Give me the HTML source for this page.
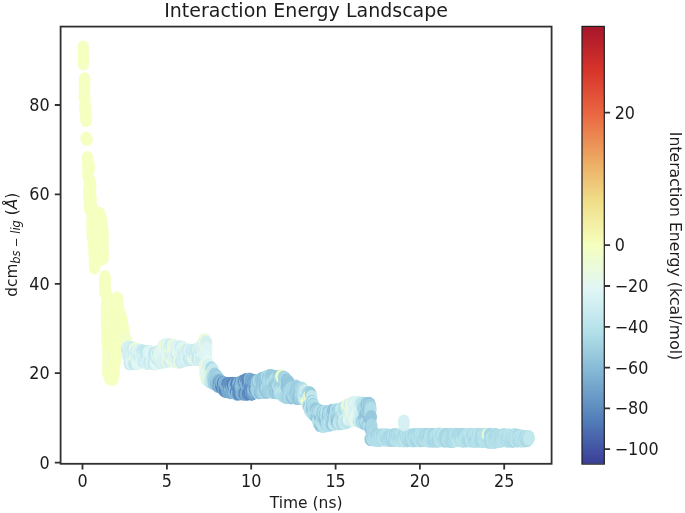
<!DOCTYPE html>
<html lang="en"><head><meta charset="utf-8"><title>Interaction Energy Landscape</title>
<style>html,body{margin:0;padding:0;background:#fff}body{width:685px;height:513px;overflow:hidden}svg{display:block}text{font-family:"DejaVu Sans","Liberation Sans",sans-serif;fill:#1c1c1c}.t{font-size:16px}.l{font-size:15.5px}.k{stroke:#303030;stroke-width:1.80;fill:none}</style></head><body>
<svg width="685" height="513" viewBox="0 0 685 513">
<rect width="685" height="513" fill="#fff"/>
<defs><linearGradient id="cb" x1="0" y1="0" x2="0" y2="1">
<stop offset="0%" stop-color="#a6162b"/>
<stop offset="10%" stop-color="#d7342a"/>
<stop offset="20%" stop-color="#ea6742"/>
<stop offset="30%" stop-color="#eca660"/>
<stop offset="40%" stop-color="#f0de88"/>
<stop offset="50%" stop-color="#f5ffbe"/>
<stop offset="60%" stop-color="#e1f6f6"/>
<stop offset="70%" stop-color="#b2e0e9"/>
<stop offset="80%" stop-color="#7eb2d2"/>
<stop offset="90%" stop-color="#527eb9"/>
<stop offset="100%" stop-color="#3a3e98"/>
</linearGradient><clipPath id="ax"><rect x="60.6" y="26.6" width="491.0" height="437.2"/></clipPath></defs>
<g class="p" clip-path="url(#ax)" fill-opacity="0.93">
<ellipse cx="83.3" cy="47.3" rx="5.9" ry="6.9" fill="#f4ffc0"/>
<ellipse cx="83.3" cy="63.6" rx="5.9" ry="6.9" fill="#f4ffc0"/>
<ellipse cx="83.3" cy="53.0" rx="5.9" ry="6.9" fill="#f4ffc0"/>
<ellipse cx="83.6" cy="58.5" rx="5.9" ry="6.9" fill="#f4ffc0"/>
<ellipse cx="84.4" cy="96.2" rx="5.9" ry="6.9" fill="#f4ffc0"/>
<ellipse cx="84.4" cy="91.2" rx="5.9" ry="6.9" fill="#f4ffc0"/>
<ellipse cx="84.4" cy="83.2" rx="5.9" ry="6.9" fill="#f4ffc0"/>
<ellipse cx="84.6" cy="79.1" rx="5.9" ry="6.9" fill="#f4ffc0"/>
<ellipse cx="84.7" cy="87.8" rx="5.9" ry="6.9" fill="#f4ffc0"/>
<ellipse cx="84.7" cy="99.2" rx="5.9" ry="6.9" fill="#f4ffc0"/>
<ellipse cx="85.2" cy="104.8" rx="5.9" ry="6.9" fill="#f4ffc0"/>
<ellipse cx="85.3" cy="108.4" rx="5.9" ry="6.9" fill="#f4ffc0"/>
<ellipse cx="85.4" cy="111.7" rx="5.9" ry="6.9" fill="#f4ffc0"/>
<ellipse cx="85.9" cy="115.9" rx="5.9" ry="6.9" fill="#f4ffc0"/>
<ellipse cx="86.1" cy="120.4" rx="5.9" ry="6.9" fill="#f4ffc0"/>
<ellipse cx="86.2" cy="138.5" rx="5.9" ry="6.9" fill="#f4ffc0"/>
<ellipse cx="86.9" cy="139.2" rx="5.9" ry="6.9" fill="#f4ffc0"/>
<ellipse cx="87.4" cy="157.9" rx="5.9" ry="6.9" fill="#f4ffc0"/>
<ellipse cx="87.7" cy="162.0" rx="5.9" ry="6.9" fill="#f4ffc0"/>
<ellipse cx="87.9" cy="174.8" rx="5.9" ry="6.9" fill="#f4ffc0"/>
<ellipse cx="88.0" cy="165.1" rx="5.9" ry="6.9" fill="#f4ffc0"/>
<ellipse cx="88.1" cy="168.0" rx="5.9" ry="6.9" fill="#f4ffc0"/>
<ellipse cx="88.4" cy="172.1" rx="5.9" ry="6.9" fill="#f4ffc0"/>
<ellipse cx="88.6" cy="177.9" rx="5.9" ry="6.9" fill="#f4ffc0"/>
<ellipse cx="88.9" cy="192.6" rx="5.9" ry="6.9" fill="#f4ffc0"/>
<ellipse cx="89.0" cy="169.1" rx="5.9" ry="6.9" fill="#f4ffc0"/>
<ellipse cx="89.0" cy="195.5" rx="5.9" ry="6.9" fill="#f4ffc0"/>
<ellipse cx="89.1" cy="198.8" rx="5.9" ry="6.9" fill="#f4ffc0"/>
<ellipse cx="89.1" cy="165.1" rx="5.9" ry="6.9" fill="#f4ffc0"/>
<ellipse cx="89.4" cy="181.9" rx="5.9" ry="6.9" fill="#f4ffc0"/>
<ellipse cx="89.4" cy="206.5" rx="5.9" ry="6.9" fill="#f4ffc0"/>
<ellipse cx="89.4" cy="188.9" rx="5.9" ry="6.9" fill="#f4ffc0"/>
<ellipse cx="89.5" cy="186.1" rx="5.9" ry="6.9" fill="#f4ffc0"/>
<ellipse cx="89.7" cy="202.2" rx="5.9" ry="6.9" fill="#f4ffc0"/>
<ellipse cx="89.9" cy="209.4" rx="5.9" ry="6.9" fill="#f4ffc0"/>
<ellipse cx="90.1" cy="181.9" rx="5.9" ry="6.9" fill="#f4ffc0"/>
<ellipse cx="90.3" cy="188.8" rx="5.9" ry="6.9" fill="#f4ffc0"/>
<ellipse cx="90.5" cy="196.2" rx="5.9" ry="6.9" fill="#f4ffc0"/>
<ellipse cx="90.5" cy="192.0" rx="5.9" ry="6.9" fill="#f4ffc0"/>
<ellipse cx="90.7" cy="185.0" rx="5.9" ry="6.9" fill="#f4ffc0"/>
<ellipse cx="90.8" cy="202.6" rx="5.9" ry="6.9" fill="#f4ffc0"/>
<ellipse cx="91.0" cy="206.4" rx="5.9" ry="6.9" fill="#f4ffc0"/>
<ellipse cx="91.0" cy="198.6" rx="5.9" ry="6.9" fill="#f4ffc0"/>
<ellipse cx="92.0" cy="223.5" rx="5.9" ry="6.9" fill="#f4ffc0"/>
<ellipse cx="92.2" cy="227.3" rx="5.9" ry="6.9" fill="#f4ffc0"/>
<ellipse cx="92.3" cy="234.4" rx="5.9" ry="6.9" fill="#f4ffc0"/>
<ellipse cx="92.4" cy="230.9" rx="5.9" ry="6.9" fill="#f4ffc0"/>
<ellipse cx="92.4" cy="219.6" rx="5.9" ry="6.9" fill="#f4ffc0"/>
<ellipse cx="92.4" cy="216.7" rx="5.9" ry="6.9" fill="#f4ffc0"/>
<ellipse cx="92.5" cy="213.5" rx="5.9" ry="6.9" fill="#f4ffc0"/>
<ellipse cx="92.5" cy="209.2" rx="5.9" ry="6.9" fill="#f4ffc0"/>
<ellipse cx="92.7" cy="237.4" rx="5.9" ry="6.9" fill="#f4ffc0"/>
<ellipse cx="92.8" cy="220.1" rx="5.9" ry="6.9" fill="#f4ffc0"/>
<ellipse cx="93.5" cy="240.0" rx="5.9" ry="6.9" fill="#f4ffc0"/>
<ellipse cx="93.5" cy="243.7" rx="5.9" ry="6.9" fill="#f4ffc0"/>
<ellipse cx="93.5" cy="212.8" rx="5.9" ry="6.9" fill="#f4ffc0"/>
<ellipse cx="93.8" cy="215.9" rx="5.9" ry="6.9" fill="#f4ffc0"/>
<ellipse cx="94.2" cy="251.5" rx="5.9" ry="6.9" fill="#f4ffc0"/>
<ellipse cx="94.4" cy="251.2" rx="5.9" ry="6.9" fill="#f4ffc0"/>
<ellipse cx="94.4" cy="254.6" rx="5.9" ry="6.9" fill="#f4ffc0"/>
<ellipse cx="94.4" cy="247.6" rx="5.9" ry="6.9" fill="#f4ffc0"/>
<ellipse cx="94.5" cy="262.2" rx="5.9" ry="6.9" fill="#f4ffc0"/>
<ellipse cx="94.5" cy="258.3" rx="5.9" ry="6.9" fill="#f4ffc0"/>
<ellipse cx="94.5" cy="226.0" rx="5.9" ry="6.9" fill="#f4ffc0"/>
<ellipse cx="94.6" cy="267.6" rx="5.9" ry="6.9" fill="#f4ffc0"/>
<ellipse cx="94.8" cy="254.4" rx="5.9" ry="6.9" fill="#f4ffc0"/>
<ellipse cx="94.8" cy="265.1" rx="5.9" ry="6.9" fill="#f4ffc0"/>
<ellipse cx="95.0" cy="234.4" rx="5.9" ry="6.9" fill="#f4ffc0"/>
<ellipse cx="95.2" cy="246.3" rx="5.9" ry="6.9" fill="#f4ffc0"/>
<ellipse cx="96.5" cy="229.2" rx="5.9" ry="6.9" fill="#f4ffc0"/>
<ellipse cx="96.9" cy="244.9" rx="5.9" ry="6.9" fill="#f4ffc0"/>
<ellipse cx="97.4" cy="239.5" rx="5.9" ry="6.9" fill="#f4ffc0"/>
<ellipse cx="98.4" cy="237.9" rx="5.9" ry="6.9" fill="#f4ffc0"/>
<ellipse cx="98.6" cy="233.1" rx="5.9" ry="6.9" fill="#f4ffc0"/>
<ellipse cx="98.9" cy="236.5" rx="5.9" ry="6.9" fill="#f4ffc0"/>
<ellipse cx="99.5" cy="213.6" rx="5.9" ry="6.9" fill="#f4ffc0"/>
<ellipse cx="100.6" cy="217.2" rx="5.9" ry="6.9" fill="#f4ffc0"/>
<ellipse cx="101.2" cy="219.2" rx="5.9" ry="6.9" fill="#f4ffc0"/>
<ellipse cx="101.5" cy="227.5" rx="5.9" ry="6.9" fill="#f4ffc0"/>
<ellipse cx="101.5" cy="258.7" rx="5.9" ry="6.9" fill="#f4ffc0"/>
<ellipse cx="101.5" cy="223.3" rx="5.9" ry="6.9" fill="#f4ffc0"/>
<ellipse cx="101.6" cy="230.4" rx="5.9" ry="6.9" fill="#f4ffc0"/>
<ellipse cx="101.7" cy="223.2" rx="5.9" ry="6.9" fill="#f4ffc0"/>
<ellipse cx="102.3" cy="226.2" rx="5.9" ry="6.9" fill="#f4ffc0"/>
<ellipse cx="102.7" cy="243.4" rx="5.9" ry="6.9" fill="#f4ffc0"/>
<ellipse cx="102.8" cy="234.0" rx="5.9" ry="6.9" fill="#f4ffc0"/>
<ellipse cx="102.8" cy="247.5" rx="5.9" ry="6.9" fill="#f4ffc0"/>
<ellipse cx="102.8" cy="230.9" rx="5.9" ry="6.9" fill="#f4ffc0"/>
<ellipse cx="102.9" cy="236.6" rx="5.9" ry="6.9" fill="#f4ffc0"/>
<ellipse cx="102.9" cy="251.6" rx="5.9" ry="6.9" fill="#f4ffc0"/>
<ellipse cx="102.9" cy="240.1" rx="5.9" ry="6.9" fill="#f4ffc0"/>
<ellipse cx="103.0" cy="258.0" rx="5.9" ry="6.9" fill="#f4ffc0"/>
<ellipse cx="103.2" cy="255.1" rx="5.9" ry="6.9" fill="#f4ffc0"/>
<ellipse cx="104.7" cy="286.8" rx="5.9" ry="6.9" fill="#f4ffc0"/>
<ellipse cx="104.9" cy="279.9" rx="5.9" ry="6.9" fill="#f4ffc0"/>
<ellipse cx="104.9" cy="283.5" rx="5.9" ry="6.9" fill="#f4ffc0"/>
<ellipse cx="105.0" cy="276.9" rx="5.9" ry="6.9" fill="#f4ffc0"/>
<ellipse cx="105.1" cy="292.9" rx="5.9" ry="6.9" fill="#f4ffc0"/>
<ellipse cx="105.2" cy="290.4" rx="5.9" ry="6.9" fill="#f4ffc0"/>
<ellipse cx="106.6" cy="323.5" rx="5.9" ry="6.9" fill="#f4ffc0"/>
<ellipse cx="106.6" cy="307.4" rx="5.9" ry="6.9" fill="#f4ffc0"/>
<ellipse cx="106.7" cy="319.6" rx="5.9" ry="6.9" fill="#f4ffc0"/>
<ellipse cx="106.8" cy="316.3" rx="5.9" ry="6.9" fill="#f4ffc0"/>
<ellipse cx="106.9" cy="313.9" rx="5.9" ry="6.9" fill="#f4ffc0"/>
<ellipse cx="106.9" cy="304.6" rx="5.9" ry="6.9" fill="#f4ffc0"/>
<ellipse cx="106.9" cy="311.3" rx="5.9" ry="6.9" fill="#f4ffc0"/>
<ellipse cx="106.9" cy="333.7" rx="5.9" ry="6.9" fill="#f4ffc0"/>
<ellipse cx="107.0" cy="317.3" rx="5.9" ry="6.9" fill="#f4ffc0"/>
<ellipse cx="107.1" cy="335.7" rx="5.9" ry="6.9" fill="#f4ffc0"/>
<ellipse cx="107.1" cy="300.7" rx="5.9" ry="6.9" fill="#f4ffc0"/>
<ellipse cx="107.1" cy="326.1" rx="5.9" ry="6.9" fill="#f4ffc0"/>
<ellipse cx="107.2" cy="329.9" rx="5.9" ry="6.9" fill="#f4ffc0"/>
<ellipse cx="107.3" cy="342.6" rx="5.9" ry="6.9" fill="#f4ffc0"/>
<ellipse cx="107.4" cy="339.6" rx="5.9" ry="6.9" fill="#f4ffc0"/>
<ellipse cx="107.5" cy="312.8" rx="5.9" ry="6.9" fill="#f4ffc0"/>
<ellipse cx="107.8" cy="345.3" rx="5.9" ry="6.9" fill="#f4ffc0"/>
<ellipse cx="107.9" cy="359.2" rx="5.9" ry="6.9" fill="#f4ffc0"/>
<ellipse cx="107.9" cy="298.1" rx="5.9" ry="6.9" fill="#f4ffc0"/>
<ellipse cx="107.9" cy="372.5" rx="5.9" ry="6.9" fill="#f4ffc0"/>
<ellipse cx="108.0" cy="361.9" rx="5.9" ry="6.9" fill="#f4ffc0"/>
<ellipse cx="108.0" cy="298.0" rx="5.9" ry="6.9" fill="#f4ffc0"/>
<ellipse cx="108.1" cy="349.1" rx="5.9" ry="6.9" fill="#f4ffc0"/>
<ellipse cx="108.1" cy="333.0" rx="5.9" ry="6.9" fill="#f4ffc0"/>
<ellipse cx="108.2" cy="365.3" rx="5.9" ry="6.9" fill="#f4ffc0"/>
<ellipse cx="108.2" cy="307.5" rx="5.9" ry="6.9" fill="#f4ffc0"/>
<ellipse cx="108.2" cy="369.0" rx="5.9" ry="6.9" fill="#f4ffc0"/>
<ellipse cx="108.3" cy="354.9" rx="5.9" ry="6.9" fill="#f4ffc0"/>
<ellipse cx="108.3" cy="353.1" rx="5.9" ry="6.9" fill="#f4ffc0"/>
<ellipse cx="108.4" cy="298.5" rx="5.9" ry="6.9" fill="#f4ffc0"/>
<ellipse cx="108.8" cy="374.2" rx="5.9" ry="6.9" fill="#f4ffc0"/>
<ellipse cx="108.8" cy="326.7" rx="5.9" ry="6.9" fill="#f4ffc0"/>
<ellipse cx="108.9" cy="349.1" rx="5.9" ry="6.9" fill="#f4ffc0"/>
<ellipse cx="109.1" cy="335.6" rx="5.9" ry="6.9" fill="#f4ffc0"/>
<ellipse cx="109.2" cy="310.5" rx="5.9" ry="6.9" fill="#f4ffc0"/>
<ellipse cx="109.3" cy="362.4" rx="5.9" ry="6.9" fill="#f4ffc0"/>
<ellipse cx="109.4" cy="352.7" rx="5.9" ry="6.9" fill="#f4ffc0"/>
<ellipse cx="109.4" cy="372.2" rx="5.9" ry="6.9" fill="#f4ffc0"/>
<ellipse cx="109.6" cy="299.9" rx="5.9" ry="6.9" fill="#f4ffc0"/>
<ellipse cx="109.7" cy="358.1" rx="5.9" ry="6.9" fill="#f4ffc0"/>
<ellipse cx="109.8" cy="378.4" rx="5.9" ry="6.9" fill="#f4ffc0"/>
<ellipse cx="110.0" cy="309.9" rx="5.9" ry="6.9" fill="#f4ffc0"/>
<ellipse cx="110.0" cy="369.5" rx="5.9" ry="6.9" fill="#f4ffc0"/>
<ellipse cx="110.2" cy="349.2" rx="5.9" ry="6.9" fill="#f4ffc0"/>
<ellipse cx="110.3" cy="330.9" rx="5.9" ry="6.9" fill="#f4ffc0"/>
<ellipse cx="110.4" cy="343.7" rx="5.9" ry="6.9" fill="#f4ffc0"/>
<ellipse cx="110.5" cy="304.7" rx="5.9" ry="6.9" fill="#f4ffc0"/>
<ellipse cx="110.6" cy="339.7" rx="5.9" ry="6.9" fill="#f4ffc0"/>
<ellipse cx="110.6" cy="355.9" rx="5.9" ry="6.9" fill="#f4ffc0"/>
<ellipse cx="111.0" cy="361.0" rx="5.9" ry="6.9" fill="#edfbd6"/>
<ellipse cx="111.0" cy="323.2" rx="5.9" ry="6.9" fill="#f4ffc0"/>
<ellipse cx="111.8" cy="340.2" rx="5.9" ry="6.9" fill="#f4ffc0"/>
<ellipse cx="111.8" cy="305.3" rx="5.9" ry="6.9" fill="#f4ffc0"/>
<ellipse cx="111.9" cy="358.7" rx="5.9" ry="6.9" fill="#f4ffc0"/>
<ellipse cx="112.2" cy="379.1" rx="5.9" ry="6.9" fill="#f4ffc0"/>
<ellipse cx="112.2" cy="310.2" rx="5.9" ry="6.9" fill="#f4ffc0"/>
<ellipse cx="112.6" cy="337.1" rx="5.9" ry="6.9" fill="#f4ffc0"/>
<ellipse cx="112.8" cy="346.7" rx="5.9" ry="6.9" fill="#f4ffc0"/>
<ellipse cx="112.9" cy="374.0" rx="5.9" ry="6.9" fill="#f4ffc0"/>
<ellipse cx="113.0" cy="326.9" rx="5.9" ry="6.9" fill="#f4ffc0"/>
<ellipse cx="113.0" cy="324.3" rx="5.9" ry="6.9" fill="#f4ffc0"/>
<ellipse cx="113.2" cy="316.0" rx="5.9" ry="6.9" fill="#f4ffc0"/>
<ellipse cx="113.2" cy="355.2" rx="5.9" ry="6.9" fill="#f4ffc0"/>
<ellipse cx="113.4" cy="377.6" rx="5.9" ry="6.9" fill="#f4ffc0"/>
<ellipse cx="113.5" cy="356.0" rx="5.9" ry="6.9" fill="#edfbd6"/>
<ellipse cx="113.6" cy="302.1" rx="5.9" ry="6.9" fill="#f4ffc0"/>
<ellipse cx="113.6" cy="374.8" rx="5.9" ry="6.9" fill="#f4ffc0"/>
<ellipse cx="113.6" cy="307.1" rx="5.9" ry="6.9" fill="#f4ffc0"/>
<ellipse cx="114.0" cy="319.6" rx="5.9" ry="6.9" fill="#f4ffc0"/>
<ellipse cx="114.0" cy="364.6" rx="5.9" ry="6.9" fill="#f4ffc0"/>
<ellipse cx="114.1" cy="371.1" rx="5.9" ry="6.9" fill="#f4ffc0"/>
<ellipse cx="114.3" cy="368.2" rx="5.9" ry="6.9" fill="#f4ffc0"/>
<ellipse cx="114.5" cy="365.4" rx="5.9" ry="6.9" fill="#f4ffc0"/>
<ellipse cx="115.0" cy="361.5" rx="5.9" ry="6.9" fill="#f4ffc0"/>
<ellipse cx="115.0" cy="352.0" rx="5.9" ry="6.9" fill="#edfbd6"/>
<ellipse cx="115.0" cy="346.0" rx="5.9" ry="6.9" fill="#f4ffc0"/>
<ellipse cx="115.2" cy="332.1" rx="5.9" ry="6.9" fill="#f4ffc0"/>
<ellipse cx="115.3" cy="351.5" rx="5.9" ry="6.9" fill="#f4ffc0"/>
<ellipse cx="115.4" cy="358.9" rx="5.9" ry="6.9" fill="#f4ffc0"/>
<ellipse cx="115.6" cy="342.8" rx="5.9" ry="6.9" fill="#f4ffc0"/>
<ellipse cx="115.6" cy="355.2" rx="5.9" ry="6.9" fill="#f4ffc0"/>
<ellipse cx="115.6" cy="352.1" rx="5.9" ry="6.9" fill="#f4ffc0"/>
<ellipse cx="115.8" cy="336.9" rx="5.9" ry="6.9" fill="#f4ffc0"/>
<ellipse cx="116.2" cy="342.1" rx="5.9" ry="6.9" fill="#f4ffc0"/>
<ellipse cx="116.3" cy="333.8" rx="5.9" ry="6.9" fill="#f4ffc0"/>
<ellipse cx="116.4" cy="320.7" rx="5.9" ry="6.9" fill="#f4ffc0"/>
<ellipse cx="116.5" cy="349.9" rx="5.9" ry="6.9" fill="#f4ffc0"/>
<ellipse cx="116.6" cy="324.2" rx="5.9" ry="6.9" fill="#f4ffc0"/>
<ellipse cx="116.7" cy="345.0" rx="5.9" ry="6.9" fill="#f4ffc0"/>
<ellipse cx="117.1" cy="327.8" rx="5.9" ry="6.9" fill="#f4ffc0"/>
<ellipse cx="117.2" cy="304.7" rx="5.9" ry="6.9" fill="#f4ffc0"/>
<ellipse cx="117.3" cy="319.6" rx="5.9" ry="6.9" fill="#f4ffc0"/>
<ellipse cx="117.3" cy="307.2" rx="5.9" ry="6.9" fill="#f4ffc0"/>
<ellipse cx="117.3" cy="298.4" rx="5.9" ry="6.9" fill="#f4ffc0"/>
<ellipse cx="117.3" cy="301.1" rx="5.9" ry="6.9" fill="#f4ffc0"/>
<ellipse cx="117.8" cy="339.7" rx="5.9" ry="6.9" fill="#f4ffc0"/>
<ellipse cx="117.8" cy="330.5" rx="5.9" ry="6.9" fill="#f4ffc0"/>
<ellipse cx="117.9" cy="323.6" rx="5.9" ry="6.9" fill="#f4ffc0"/>
<ellipse cx="118.1" cy="303.8" rx="5.9" ry="6.9" fill="#f4ffc0"/>
<ellipse cx="118.2" cy="308.2" rx="5.9" ry="6.9" fill="#f4ffc0"/>
<ellipse cx="118.5" cy="312.8" rx="5.9" ry="6.9" fill="#f4ffc0"/>
<ellipse cx="118.7" cy="316.5" rx="5.9" ry="6.9" fill="#f4ffc0"/>
<ellipse cx="118.9" cy="311.5" rx="5.9" ry="6.9" fill="#f4ffc0"/>
<ellipse cx="119.2" cy="321.5" rx="5.9" ry="6.9" fill="#f4ffc0"/>
<ellipse cx="119.2" cy="330.7" rx="5.9" ry="6.9" fill="#f4ffc0"/>
<ellipse cx="120.0" cy="313.8" rx="5.9" ry="6.9" fill="#f4ffc0"/>
<ellipse cx="120.1" cy="314.5" rx="5.9" ry="6.9" fill="#f4ffc0"/>
<ellipse cx="120.3" cy="346.0" rx="5.9" ry="6.9" fill="#f4ffc0"/>
<ellipse cx="121.1" cy="317.6" rx="5.9" ry="6.9" fill="#f4ffc0"/>
<ellipse cx="121.3" cy="339.7" rx="5.9" ry="6.9" fill="#f4ffc0"/>
<ellipse cx="121.4" cy="327.5" rx="5.9" ry="6.9" fill="#f4ffc0"/>
<ellipse cx="121.6" cy="336.9" rx="5.9" ry="6.9" fill="#f4ffc0"/>
<ellipse cx="121.7" cy="332.8" rx="5.9" ry="6.9" fill="#f4ffc0"/>
<ellipse cx="121.8" cy="320.3" rx="5.9" ry="6.9" fill="#f4ffc0"/>
<ellipse cx="122.4" cy="343.5" rx="5.9" ry="6.9" fill="#f4ffc0"/>
<ellipse cx="122.4" cy="323.1" rx="5.9" ry="6.9" fill="#f4ffc0"/>
<ellipse cx="122.4" cy="342.9" rx="5.9" ry="6.9" fill="#f4ffc0"/>
<ellipse cx="122.9" cy="327.1" rx="5.9" ry="6.9" fill="#f4ffc0"/>
<ellipse cx="123.5" cy="338.9" rx="5.9" ry="6.9" fill="#f4ffc0"/>
<ellipse cx="123.7" cy="329.5" rx="5.9" ry="6.9" fill="#f4ffc0"/>
<ellipse cx="123.8" cy="331.1" rx="5.9" ry="6.9" fill="#f4ffc0"/>
<ellipse cx="124.0" cy="335.9" rx="5.9" ry="6.9" fill="#f4ffc0"/>
<ellipse cx="124.1" cy="333.8" rx="5.9" ry="6.9" fill="#f4ffc0"/>
<ellipse cx="126.4" cy="339.5" rx="5.9" ry="6.9" fill="#f0fdcb"/>
<ellipse cx="127.0" cy="348.5" rx="5.9" ry="6.9" fill="#d6f1f3"/>
<ellipse cx="127.0" cy="349.8" rx="5.9" ry="6.9" fill="#c4e8ee"/>
<ellipse cx="127.6" cy="355.4" rx="5.9" ry="6.9" fill="#d8f2f3"/>
<ellipse cx="127.9" cy="347.3" rx="5.9" ry="6.9" fill="#e4f7ee"/>
<ellipse cx="128.5" cy="347.5" rx="5.9" ry="6.9" fill="#d2eff2"/>
<ellipse cx="128.7" cy="355.5" rx="5.9" ry="6.9" fill="#d1eef1"/>
<ellipse cx="129.6" cy="363.5" rx="5.9" ry="6.9" fill="#c5e9ee"/>
<ellipse cx="129.7" cy="361.1" rx="5.9" ry="6.9" fill="#c6eaef"/>
<ellipse cx="130.5" cy="360.4" rx="5.9" ry="6.9" fill="#dbf3f4"/>
<ellipse cx="131.0" cy="363.2" rx="5.9" ry="6.9" fill="#d3eff2"/>
<ellipse cx="131.5" cy="362.9" rx="5.9" ry="6.9" fill="#dcf4f5"/>
<ellipse cx="131.8" cy="362.9" rx="5.9" ry="6.9" fill="#e1f6f5"/>
<ellipse cx="131.9" cy="354.3" rx="5.9" ry="6.9" fill="#dbf3f4"/>
<ellipse cx="132.6" cy="348.2" rx="5.9" ry="6.9" fill="#cdedf0"/>
<ellipse cx="133.0" cy="362.9" rx="5.9" ry="6.9" fill="#d9f2f4"/>
<ellipse cx="133.4" cy="356.5" rx="5.9" ry="6.9" fill="#ceedf1"/>
<ellipse cx="133.9" cy="360.0" rx="5.9" ry="6.9" fill="#edfbd5"/>
<ellipse cx="134.0" cy="363.3" rx="5.9" ry="6.9" fill="#c1e7ed"/>
<ellipse cx="134.6" cy="348.9" rx="5.9" ry="6.9" fill="#e2f6f4"/>
<ellipse cx="135.1" cy="349.5" rx="5.9" ry="6.9" fill="#f0fdcd"/>
<ellipse cx="135.2" cy="357.2" rx="5.9" ry="6.9" fill="#e3f7f0"/>
<ellipse cx="135.5" cy="351.5" rx="5.9" ry="6.9" fill="#d2eff2"/>
<ellipse cx="136.1" cy="355.2" rx="5.9" ry="6.9" fill="#d4f0f2"/>
<ellipse cx="136.8" cy="363.0" rx="5.9" ry="6.9" fill="#d5f0f3"/>
<ellipse cx="137.3" cy="363.4" rx="5.9" ry="6.9" fill="#e8f9e1"/>
<ellipse cx="137.9" cy="362.7" rx="5.9" ry="6.9" fill="#dcf4f5"/>
<ellipse cx="137.9" cy="350.6" rx="5.9" ry="6.9" fill="#e2f6f4"/>
<ellipse cx="138.5" cy="363.0" rx="5.9" ry="6.9" fill="#dff5f5"/>
<ellipse cx="138.5" cy="353.0" rx="5.9" ry="6.9" fill="#d4f0f2"/>
<ellipse cx="139.2" cy="356.0" rx="5.9" ry="6.9" fill="#c7eaef"/>
<ellipse cx="139.4" cy="350.4" rx="5.9" ry="6.9" fill="#d9f2f4"/>
<ellipse cx="140.4" cy="355.6" rx="5.9" ry="6.9" fill="#def4f5"/>
<ellipse cx="140.8" cy="359.8" rx="5.9" ry="6.9" fill="#c8eaef"/>
<ellipse cx="141.0" cy="358.4" rx="5.9" ry="6.9" fill="#cdedf0"/>
<ellipse cx="141.0" cy="358.0" rx="5.9" ry="6.9" fill="#d8f2f3"/>
<ellipse cx="141.3" cy="362.3" rx="5.9" ry="6.9" fill="#e2f6f4"/>
<ellipse cx="141.8" cy="350.8" rx="5.9" ry="6.9" fill="#d0eef1"/>
<ellipse cx="142.6" cy="351.6" rx="5.9" ry="6.9" fill="#c2e8ee"/>
<ellipse cx="142.8" cy="355.4" rx="5.9" ry="6.9" fill="#d2eff2"/>
<ellipse cx="143.6" cy="360.3" rx="5.9" ry="6.9" fill="#c7eaef"/>
<ellipse cx="143.6" cy="361.1" rx="5.9" ry="6.9" fill="#c2e7ed"/>
<ellipse cx="144.1" cy="355.4" rx="5.9" ry="6.9" fill="#d9f2f4"/>
<ellipse cx="144.5" cy="360.0" rx="5.9" ry="6.9" fill="#e2f6f3"/>
<ellipse cx="145.1" cy="351.8" rx="5.9" ry="6.9" fill="#c2e7ed"/>
<ellipse cx="145.1" cy="359.3" rx="5.9" ry="6.9" fill="#cbecf0"/>
<ellipse cx="146.1" cy="351.8" rx="5.9" ry="6.9" fill="#c2e8ed"/>
<ellipse cx="146.5" cy="354.6" rx="5.9" ry="6.9" fill="#c5e9ee"/>
<ellipse cx="147.0" cy="362.1" rx="5.9" ry="6.9" fill="#d0eef1"/>
<ellipse cx="147.1" cy="363.0" rx="5.9" ry="6.9" fill="#dbf3f4"/>
<ellipse cx="147.4" cy="362.8" rx="5.9" ry="6.9" fill="#e2f7f3"/>
<ellipse cx="147.9" cy="362.8" rx="5.9" ry="6.9" fill="#cdedf1"/>
<ellipse cx="148.7" cy="353.7" rx="5.9" ry="6.9" fill="#ddf4f5"/>
<ellipse cx="148.7" cy="352.1" rx="5.9" ry="6.9" fill="#def5f5"/>
<ellipse cx="149.6" cy="352.2" rx="5.9" ry="6.9" fill="#d4f0f3"/>
<ellipse cx="149.8" cy="352.0" rx="5.9" ry="6.9" fill="#dcf4f5"/>
<ellipse cx="149.9" cy="360.9" rx="5.9" ry="6.9" fill="#c1e7ed"/>
<ellipse cx="150.3" cy="353.6" rx="5.9" ry="6.9" fill="#dcf4f5"/>
<ellipse cx="150.9" cy="362.6" rx="5.9" ry="6.9" fill="#d3f0f2"/>
<ellipse cx="151.4" cy="362.5" rx="5.9" ry="6.9" fill="#d9f2f4"/>
<ellipse cx="152.0" cy="360.1" rx="5.9" ry="6.9" fill="#e2f6f4"/>
<ellipse cx="152.5" cy="361.7" rx="5.9" ry="6.9" fill="#dff5f5"/>
<ellipse cx="152.9" cy="359.5" rx="5.9" ry="6.9" fill="#d4f0f2"/>
<ellipse cx="153.3" cy="363.3" rx="5.9" ry="6.9" fill="#c7eaef"/>
<ellipse cx="153.4" cy="363.1" rx="5.9" ry="6.9" fill="#c5e9ee"/>
<ellipse cx="154.0" cy="353.6" rx="5.9" ry="6.9" fill="#cbecf0"/>
<ellipse cx="154.4" cy="354.9" rx="5.9" ry="6.9" fill="#c1e7ed"/>
<ellipse cx="154.5" cy="353.5" rx="5.9" ry="6.9" fill="#c3e8ee"/>
<ellipse cx="154.9" cy="363.0" rx="5.9" ry="6.9" fill="#d6f1f3"/>
<ellipse cx="155.6" cy="363.5" rx="5.9" ry="6.9" fill="#ddf4f5"/>
<ellipse cx="156.2" cy="363.2" rx="5.9" ry="6.9" fill="#e3f7f2"/>
<ellipse cx="156.3" cy="358.4" rx="5.9" ry="6.9" fill="#c9ebef"/>
<ellipse cx="156.8" cy="353.5" rx="5.9" ry="6.9" fill="#dff5f5"/>
<ellipse cx="157.0" cy="355.4" rx="5.9" ry="6.9" fill="#e3f7f0"/>
<ellipse cx="157.8" cy="352.4" rx="5.9" ry="6.9" fill="#ceedf1"/>
<ellipse cx="157.9" cy="353.5" rx="5.9" ry="6.9" fill="#c5e9ee"/>
<ellipse cx="158.3" cy="357.5" rx="5.9" ry="6.9" fill="#d8f2f4"/>
<ellipse cx="159.0" cy="351.5" rx="5.9" ry="6.9" fill="#caebf0"/>
<ellipse cx="159.2" cy="352.7" rx="5.9" ry="6.9" fill="#effcd0"/>
<ellipse cx="159.9" cy="362.4" rx="5.9" ry="6.9" fill="#d0eef1"/>
<ellipse cx="160.0" cy="356.2" rx="5.9" ry="6.9" fill="#e3f7f2"/>
<ellipse cx="160.3" cy="351.6" rx="5.9" ry="6.9" fill="#d6f1f3"/>
<ellipse cx="161.0" cy="352.4" rx="5.9" ry="6.9" fill="#eafadd"/>
<ellipse cx="161.4" cy="352.5" rx="5.9" ry="6.9" fill="#def5f5"/>
<ellipse cx="161.5" cy="361.6" rx="5.9" ry="6.9" fill="#e3f7f1"/>
<ellipse cx="162.2" cy="361.5" rx="5.9" ry="6.9" fill="#ceedf1"/>
<ellipse cx="162.8" cy="346.5" rx="5.9" ry="6.9" fill="#e3f7f0"/>
<ellipse cx="163.0" cy="361.6" rx="5.9" ry="6.9" fill="#ddf4f5"/>
<ellipse cx="163.7" cy="361.3" rx="5.9" ry="6.9" fill="#d2eff2"/>
<ellipse cx="163.8" cy="361.0" rx="5.9" ry="6.9" fill="#e0f5f6"/>
<ellipse cx="164.5" cy="345.4" rx="5.9" ry="6.9" fill="#e7f8e7"/>
<ellipse cx="164.5" cy="346.7" rx="5.9" ry="6.9" fill="#edfcd3"/>
<ellipse cx="164.9" cy="361.4" rx="5.9" ry="6.9" fill="#cfeef1"/>
<ellipse cx="165.7" cy="351.2" rx="5.9" ry="6.9" fill="#d8f2f3"/>
<ellipse cx="165.9" cy="352.0" rx="5.9" ry="6.9" fill="#e0f6f6"/>
<ellipse cx="166.6" cy="360.8" rx="5.9" ry="6.9" fill="#e9fadf"/>
<ellipse cx="167.0" cy="344.8" rx="5.9" ry="6.9" fill="#d8f2f3"/>
<ellipse cx="167.6" cy="344.7" rx="5.9" ry="6.9" fill="#dff5f5"/>
<ellipse cx="167.8" cy="346.9" rx="5.9" ry="6.9" fill="#e5f8eb"/>
<ellipse cx="168.5" cy="360.7" rx="5.9" ry="6.9" fill="#cfedf1"/>
<ellipse cx="168.9" cy="356.4" rx="5.9" ry="6.9" fill="#e6f8e8"/>
<ellipse cx="169.1" cy="347.8" rx="5.9" ry="6.9" fill="#ccecf0"/>
<ellipse cx="169.4" cy="350.0" rx="5.9" ry="6.9" fill="#e8f9e3"/>
<ellipse cx="169.9" cy="345.4" rx="5.9" ry="6.9" fill="#ceedf1"/>
<ellipse cx="170.5" cy="354.7" rx="5.9" ry="6.9" fill="#cdedf0"/>
<ellipse cx="170.7" cy="354.0" rx="5.9" ry="6.9" fill="#d3f0f2"/>
<ellipse cx="170.8" cy="348.9" rx="5.9" ry="6.9" fill="#e0f6f6"/>
<ellipse cx="171.9" cy="346.3" rx="5.9" ry="6.9" fill="#c8eaef"/>
<ellipse cx="172.1" cy="355.8" rx="5.9" ry="6.9" fill="#d4f0f2"/>
<ellipse cx="172.3" cy="360.9" rx="5.9" ry="6.9" fill="#e9fae0"/>
<ellipse cx="172.6" cy="345.7" rx="5.9" ry="6.9" fill="#ecfbd8"/>
<ellipse cx="172.9" cy="350.8" rx="5.9" ry="6.9" fill="#edfcd4"/>
<ellipse cx="173.7" cy="355.1" rx="5.9" ry="6.9" fill="#dbf3f4"/>
<ellipse cx="174.4" cy="357.7" rx="5.9" ry="6.9" fill="#e3f7ef"/>
<ellipse cx="174.5" cy="359.3" rx="5.9" ry="6.9" fill="#d8f2f3"/>
<ellipse cx="175.2" cy="354.1" rx="5.9" ry="6.9" fill="#ddf4f5"/>
<ellipse cx="175.4" cy="357.8" rx="5.9" ry="6.9" fill="#d3eff2"/>
<ellipse cx="175.5" cy="361.6" rx="5.9" ry="6.9" fill="#e3f7f1"/>
<ellipse cx="175.8" cy="346.4" rx="5.9" ry="6.9" fill="#dbf3f4"/>
<ellipse cx="176.5" cy="354.4" rx="5.9" ry="6.9" fill="#cfeef1"/>
<ellipse cx="177.1" cy="361.7" rx="5.9" ry="6.9" fill="#e6f8e8"/>
<ellipse cx="177.5" cy="360.3" rx="5.9" ry="6.9" fill="#c9ebef"/>
<ellipse cx="177.6" cy="352.8" rx="5.9" ry="6.9" fill="#e4f7ee"/>
<ellipse cx="178.1" cy="361.1" rx="5.9" ry="6.9" fill="#c4e8ee"/>
<ellipse cx="178.6" cy="361.9" rx="5.9" ry="6.9" fill="#e5f8ea"/>
<ellipse cx="178.9" cy="361.5" rx="5.9" ry="6.9" fill="#effcce"/>
<ellipse cx="179.3" cy="361.0" rx="5.9" ry="6.9" fill="#e7f9e6"/>
<ellipse cx="180.2" cy="361.3" rx="5.9" ry="6.9" fill="#e5f8eb"/>
<ellipse cx="180.4" cy="347.4" rx="5.9" ry="6.9" fill="#cbecf0"/>
<ellipse cx="180.7" cy="361.7" rx="5.9" ry="6.9" fill="#cbebf0"/>
<ellipse cx="181.5" cy="347.6" rx="5.9" ry="6.9" fill="#d0eef1"/>
<ellipse cx="181.6" cy="349.2" rx="5.9" ry="6.9" fill="#e0f6f6"/>
<ellipse cx="181.8" cy="347.7" rx="5.9" ry="6.9" fill="#cfeef1"/>
<ellipse cx="182.3" cy="348.0" rx="5.9" ry="6.9" fill="#def5f5"/>
<ellipse cx="182.7" cy="359.8" rx="5.9" ry="6.9" fill="#dbf3f4"/>
<ellipse cx="183.0" cy="356.9" rx="5.9" ry="6.9" fill="#cdedf0"/>
<ellipse cx="183.3" cy="354.0" rx="5.9" ry="6.9" fill="#d7f1f3"/>
<ellipse cx="183.8" cy="352.2" rx="5.9" ry="6.9" fill="#cbecf0"/>
<ellipse cx="184.6" cy="360.1" rx="5.9" ry="6.9" fill="#cbecf0"/>
<ellipse cx="185.2" cy="350.0" rx="5.9" ry="6.9" fill="#ebfbd9"/>
<ellipse cx="185.4" cy="359.6" rx="5.9" ry="6.9" fill="#d4f0f3"/>
<ellipse cx="185.8" cy="353.5" rx="5.9" ry="6.9" fill="#dbf3f4"/>
<ellipse cx="186.4" cy="350.6" rx="5.9" ry="6.9" fill="#c6e9ee"/>
<ellipse cx="186.6" cy="358.5" rx="5.9" ry="6.9" fill="#dbf3f4"/>
<ellipse cx="186.8" cy="357.7" rx="5.9" ry="6.9" fill="#dff5f5"/>
<ellipse cx="187.1" cy="352.3" rx="5.9" ry="6.9" fill="#d6f1f3"/>
<ellipse cx="187.6" cy="357.1" rx="5.9" ry="6.9" fill="#d5f0f3"/>
<ellipse cx="188.3" cy="350.3" rx="5.9" ry="6.9" fill="#d2eff2"/>
<ellipse cx="188.8" cy="359.0" rx="5.9" ry="6.9" fill="#c0e7ed"/>
<ellipse cx="189.0" cy="357.7" rx="5.9" ry="6.9" fill="#c7eaef"/>
<ellipse cx="189.4" cy="350.7" rx="5.9" ry="6.9" fill="#d6f1f3"/>
<ellipse cx="189.8" cy="351.4" rx="5.9" ry="6.9" fill="#ddf4f5"/>
<ellipse cx="190.1" cy="351.2" rx="5.9" ry="6.9" fill="#def4f5"/>
<ellipse cx="190.5" cy="359.0" rx="5.9" ry="6.9" fill="#c6e9ee"/>
<ellipse cx="191.2" cy="357.2" rx="5.9" ry="6.9" fill="#e2f7f2"/>
<ellipse cx="191.4" cy="351.2" rx="5.9" ry="6.9" fill="#c7eaef"/>
<ellipse cx="191.7" cy="358.9" rx="5.9" ry="6.9" fill="#ceedf1"/>
<ellipse cx="192.3" cy="357.1" rx="5.9" ry="6.9" fill="#dbf3f4"/>
<ellipse cx="192.8" cy="352.7" rx="5.9" ry="6.9" fill="#d0eef1"/>
<ellipse cx="193.5" cy="358.3" rx="5.9" ry="6.9" fill="#ebfadb"/>
<ellipse cx="193.9" cy="350.8" rx="5.9" ry="6.9" fill="#daf3f4"/>
<ellipse cx="194.1" cy="354.4" rx="5.9" ry="6.9" fill="#ceedf1"/>
<ellipse cx="194.7" cy="352.2" rx="5.9" ry="6.9" fill="#ccecf0"/>
<ellipse cx="194.9" cy="350.4" rx="5.9" ry="6.9" fill="#c7eaef"/>
<ellipse cx="195.2" cy="359.0" rx="5.9" ry="6.9" fill="#daf3f4"/>
<ellipse cx="195.7" cy="359.0" rx="5.9" ry="6.9" fill="#dbf3f4"/>
<ellipse cx="196.6" cy="350.1" rx="5.9" ry="6.9" fill="#caebf0"/>
<ellipse cx="196.8" cy="358.5" rx="5.9" ry="6.9" fill="#dcf4f5"/>
<ellipse cx="197.1" cy="352.4" rx="5.9" ry="6.9" fill="#ceedf1"/>
<ellipse cx="197.4" cy="358.8" rx="5.9" ry="6.9" fill="#c3e8ee"/>
<ellipse cx="197.8" cy="354.5" rx="5.9" ry="6.9" fill="#c2e8ee"/>
<ellipse cx="198.3" cy="349.6" rx="5.9" ry="6.9" fill="#eafadd"/>
<ellipse cx="199.0" cy="350.8" rx="5.9" ry="6.9" fill="#dcf4f5"/>
<ellipse cx="199.4" cy="350.5" rx="5.9" ry="6.9" fill="#c9ebef"/>
<ellipse cx="199.5" cy="359.1" rx="5.9" ry="6.9" fill="#e2f6f3"/>
<ellipse cx="200.1" cy="359.5" rx="5.9" ry="6.9" fill="#edfbd5"/>
<ellipse cx="200.8" cy="359.5" rx="5.9" ry="6.9" fill="#ceedf1"/>
<ellipse cx="201.2" cy="347.1" rx="5.9" ry="6.9" fill="#def4f5"/>
<ellipse cx="201.3" cy="359.8" rx="5.9" ry="6.9" fill="#c8ebef"/>
<ellipse cx="201.6" cy="345.6" rx="5.9" ry="6.9" fill="#d3eff2"/>
<ellipse cx="202.3" cy="344.8" rx="5.9" ry="6.9" fill="#d9f2f4"/>
<ellipse cx="202.3" cy="360.7" rx="5.9" ry="6.9" fill="#d6f1f3"/>
<ellipse cx="202.6" cy="355.4" rx="5.9" ry="6.9" fill="#dff5f5"/>
<ellipse cx="203.1" cy="360.7" rx="5.9" ry="6.9" fill="#cdedf1"/>
<ellipse cx="203.7" cy="352.6" rx="5.9" ry="6.9" fill="#def4f5"/>
<ellipse cx="203.8" cy="340.7" rx="5.9" ry="6.9" fill="#e6f8e7"/>
<ellipse cx="204.5" cy="364.9" rx="5.9" ry="6.9" fill="#e7f9e4"/>
<ellipse cx="204.6" cy="344.6" rx="5.9" ry="6.9" fill="#def5f5"/>
<ellipse cx="204.8" cy="371.5" rx="5.9" ry="6.9" fill="#e9fae0"/>
<ellipse cx="204.8" cy="351.5" rx="5.9" ry="6.9" fill="#e8f9e2"/>
<ellipse cx="204.9" cy="351.5" rx="5.9" ry="6.9" fill="#def4f5"/>
<ellipse cx="204.9" cy="340.1" rx="5.9" ry="6.9" fill="#ecfbd8"/>
<ellipse cx="205.1" cy="348.1" rx="5.9" ry="6.9" fill="#d0eef1"/>
<ellipse cx="205.3" cy="346.0" rx="5.9" ry="6.9" fill="#eafadd"/>
<ellipse cx="205.5" cy="371.0" rx="5.9" ry="6.9" fill="#e9fae0"/>
<ellipse cx="205.5" cy="375.6" rx="5.9" ry="6.9" fill="#e4f7ee"/>
<ellipse cx="205.9" cy="352.3" rx="5.9" ry="6.9" fill="#e5f8ea"/>
<ellipse cx="206.0" cy="371.4" rx="5.9" ry="6.9" fill="#d8f2f4"/>
<ellipse cx="206.1" cy="378.3" rx="5.9" ry="6.9" fill="#ecfbd8"/>
<ellipse cx="206.2" cy="355.1" rx="5.9" ry="6.9" fill="#dbf3f4"/>
<ellipse cx="206.3" cy="342.5" rx="5.9" ry="6.9" fill="#d2eff2"/>
<ellipse cx="206.9" cy="348.8" rx="5.9" ry="6.9" fill="#dff5f5"/>
<ellipse cx="207.1" cy="360.7" rx="5.9" ry="6.9" fill="#e3f7f1"/>
<ellipse cx="207.1" cy="370.9" rx="5.9" ry="6.9" fill="#effccf"/>
<ellipse cx="207.3" cy="373.7" rx="5.9" ry="6.9" fill="#e4f7ee"/>
<ellipse cx="207.3" cy="376.8" rx="5.9" ry="6.9" fill="#e4f8ed"/>
<ellipse cx="207.4" cy="379.7" rx="5.9" ry="6.9" fill="#cfedf1"/>
<ellipse cx="207.8" cy="370.5" rx="5.9" ry="6.9" fill="#e5f8ec"/>
<ellipse cx="207.9" cy="379.4" rx="5.9" ry="6.9" fill="#edfcd3"/>
<ellipse cx="208.6" cy="366.1" rx="5.9" ry="6.9" fill="#c3e8ee"/>
<ellipse cx="208.6" cy="366.4" rx="5.9" ry="6.9" fill="#ecfbd7"/>
<ellipse cx="208.6" cy="380.6" rx="5.9" ry="6.9" fill="#e1f6f6"/>
<ellipse cx="208.9" cy="380.5" rx="5.9" ry="6.9" fill="#def5f5"/>
<ellipse cx="208.9" cy="373.9" rx="5.9" ry="6.9" fill="#dff5f5"/>
<ellipse cx="209.1" cy="366.4" rx="5.9" ry="6.9" fill="#c5e9ee"/>
<ellipse cx="209.6" cy="381.2" rx="5.9" ry="6.9" fill="#cdedf1"/>
<ellipse cx="209.7" cy="366.5" rx="5.9" ry="6.9" fill="#dff5f5"/>
<ellipse cx="209.7" cy="381.3" rx="5.9" ry="6.9" fill="#d2eff2"/>
<ellipse cx="210.0" cy="373.1" rx="5.9" ry="6.9" fill="#d9f2f4"/>
<ellipse cx="210.5" cy="367.1" rx="5.9" ry="6.9" fill="#e2f6f3"/>
<ellipse cx="210.7" cy="367.9" rx="5.9" ry="6.9" fill="#b6e2ea"/>
<ellipse cx="210.8" cy="381.6" rx="5.9" ry="6.9" fill="#bce5ec"/>
<ellipse cx="211.0" cy="376.9" rx="5.9" ry="6.9" fill="#cfeef1"/>
<ellipse cx="211.0" cy="381.9" rx="5.9" ry="6.9" fill="#c5e9ee"/>
<ellipse cx="211.6" cy="369.0" rx="5.9" ry="6.9" fill="#abdae6"/>
<ellipse cx="211.7" cy="382.3" rx="5.9" ry="6.9" fill="#addce7"/>
<ellipse cx="211.8" cy="372.3" rx="5.9" ry="6.9" fill="#ecfbd6"/>
<ellipse cx="211.9" cy="378.7" rx="5.9" ry="6.9" fill="#bee6ec"/>
<ellipse cx="211.9" cy="382.3" rx="5.9" ry="6.9" fill="#c9ebef"/>
<ellipse cx="212.3" cy="374.0" rx="5.9" ry="6.9" fill="#b1dfe9"/>
<ellipse cx="212.9" cy="379.0" rx="5.9" ry="6.9" fill="#a2d2e2"/>
<ellipse cx="213.0" cy="369.9" rx="5.9" ry="6.9" fill="#c5e9ee"/>
<ellipse cx="213.5" cy="383.1" rx="5.9" ry="6.9" fill="#94c5dc"/>
<ellipse cx="214.3" cy="383.2" rx="5.9" ry="6.9" fill="#c4e8ee"/>
<ellipse cx="214.3" cy="383.2" rx="5.9" ry="6.9" fill="#90c2da"/>
<ellipse cx="214.5" cy="374.3" rx="5.9" ry="6.9" fill="#9dcde0"/>
<ellipse cx="214.9" cy="383.7" rx="5.9" ry="6.9" fill="#b7e2ea"/>
<ellipse cx="215.5" cy="383.7" rx="5.9" ry="6.9" fill="#85b8d5"/>
<ellipse cx="216.3" cy="375.9" rx="5.9" ry="6.9" fill="#9bccdf"/>
<ellipse cx="216.7" cy="379.7" rx="5.9" ry="6.9" fill="#95c6dc"/>
<ellipse cx="216.7" cy="379.6" rx="5.9" ry="6.9" fill="#97c8dd"/>
<ellipse cx="216.8" cy="384.9" rx="5.9" ry="6.9" fill="#8dbfd9"/>
<ellipse cx="217.9" cy="377.6" rx="5.9" ry="6.9" fill="#a4d3e3"/>
<ellipse cx="217.9" cy="380.6" rx="5.9" ry="6.9" fill="#8bbdd8"/>
<ellipse cx="218.1" cy="386.1" rx="5.9" ry="6.9" fill="#76a8cd"/>
<ellipse cx="218.9" cy="382.5" rx="5.9" ry="6.9" fill="#6797c5"/>
<ellipse cx="219.6" cy="385.4" rx="5.9" ry="6.9" fill="#8cbed8"/>
<ellipse cx="219.8" cy="384.2" rx="5.9" ry="6.9" fill="#8bbed8"/>
<ellipse cx="219.8" cy="380.9" rx="5.9" ry="6.9" fill="#81b5d3"/>
<ellipse cx="220.4" cy="381.6" rx="5.9" ry="6.9" fill="#72a4cb"/>
<ellipse cx="220.8" cy="387.1" rx="5.9" ry="6.9" fill="#8abdd7"/>
<ellipse cx="220.9" cy="386.7" rx="5.9" ry="6.9" fill="#5581ba"/>
<ellipse cx="221.3" cy="382.0" rx="5.9" ry="6.9" fill="#8bbed8"/>
<ellipse cx="222.3" cy="382.3" rx="5.9" ry="6.9" fill="#8abcd7"/>
<ellipse cx="222.4" cy="383.7" rx="5.9" ry="6.9" fill="#7baed0"/>
<ellipse cx="222.7" cy="382.9" rx="5.9" ry="6.9" fill="#5986bd"/>
<ellipse cx="223.3" cy="389.4" rx="5.9" ry="6.9" fill="#78abce"/>
<ellipse cx="223.6" cy="384.1" rx="5.9" ry="6.9" fill="#537fb9"/>
<ellipse cx="223.9" cy="383.1" rx="5.9" ry="6.9" fill="#92c4db"/>
<ellipse cx="224.3" cy="384.0" rx="5.9" ry="6.9" fill="#7cb0d1"/>
<ellipse cx="224.7" cy="390.6" rx="5.9" ry="6.9" fill="#5480ba"/>
<ellipse cx="225.4" cy="390.8" rx="5.9" ry="6.9" fill="#5b88be"/>
<ellipse cx="225.6" cy="386.6" rx="5.9" ry="6.9" fill="#6b9cc7"/>
<ellipse cx="226.0" cy="385.8" rx="5.9" ry="6.9" fill="#8abdd7"/>
<ellipse cx="226.4" cy="386.7" rx="5.9" ry="6.9" fill="#81b4d3"/>
<ellipse cx="227.1" cy="391.4" rx="5.9" ry="6.9" fill="#7baed0"/>
<ellipse cx="227.2" cy="383.8" rx="5.9" ry="6.9" fill="#5e8cc0"/>
<ellipse cx="227.5" cy="384.2" rx="5.9" ry="6.9" fill="#5c8abf"/>
<ellipse cx="227.7" cy="391.0" rx="5.9" ry="6.9" fill="#75a7cd"/>
<ellipse cx="228.4" cy="386.6" rx="5.9" ry="6.9" fill="#8ec0d9"/>
<ellipse cx="228.6" cy="384.3" rx="5.9" ry="6.9" fill="#6493c3"/>
<ellipse cx="229.1" cy="387.9" rx="5.9" ry="6.9" fill="#6493c3"/>
<ellipse cx="230.0" cy="389.2" rx="5.9" ry="6.9" fill="#94c6dc"/>
<ellipse cx="230.2" cy="383.9" rx="5.9" ry="6.9" fill="#6797c5"/>
<ellipse cx="230.4" cy="392.4" rx="5.9" ry="6.9" fill="#79accf"/>
<ellipse cx="230.7" cy="385.5" rx="5.9" ry="6.9" fill="#6594c4"/>
<ellipse cx="231.3" cy="384.3" rx="5.9" ry="6.9" fill="#5682bb"/>
<ellipse cx="231.8" cy="386.0" rx="5.9" ry="6.9" fill="#87bad6"/>
<ellipse cx="232.4" cy="383.9" rx="5.9" ry="6.9" fill="#4e73b3"/>
<ellipse cx="232.4" cy="383.7" rx="5.9" ry="6.9" fill="#6392c3"/>
<ellipse cx="232.5" cy="384.1" rx="5.9" ry="6.9" fill="#608ec1"/>
<ellipse cx="233.0" cy="384.8" rx="5.9" ry="6.9" fill="#517bb7"/>
<ellipse cx="233.4" cy="386.0" rx="5.9" ry="6.9" fill="#6898c5"/>
<ellipse cx="233.7" cy="389.1" rx="5.9" ry="6.9" fill="#6b9cc7"/>
<ellipse cx="234.3" cy="385.1" rx="5.9" ry="6.9" fill="#94c6dc"/>
<ellipse cx="234.4" cy="392.3" rx="5.9" ry="6.9" fill="#94c5dc"/>
<ellipse cx="234.9" cy="384.2" rx="5.9" ry="6.9" fill="#80b4d3"/>
<ellipse cx="235.7" cy="392.3" rx="5.9" ry="6.9" fill="#4f76b5"/>
<ellipse cx="236.0" cy="383.8" rx="5.9" ry="6.9" fill="#527db9"/>
<ellipse cx="236.4" cy="393.8" rx="5.9" ry="6.9" fill="#90c2da"/>
<ellipse cx="236.8" cy="392.8" rx="5.9" ry="6.9" fill="#92c4db"/>
<ellipse cx="237.0" cy="387.6" rx="5.9" ry="6.9" fill="#5f8ec1"/>
<ellipse cx="237.5" cy="393.7" rx="5.9" ry="6.9" fill="#6d9dc8"/>
<ellipse cx="238.0" cy="384.0" rx="5.9" ry="6.9" fill="#89bbd7"/>
<ellipse cx="238.3" cy="387.6" rx="5.9" ry="6.9" fill="#5a87bd"/>
<ellipse cx="238.8" cy="393.7" rx="5.9" ry="6.9" fill="#5a88be"/>
<ellipse cx="239.3" cy="383.2" rx="5.9" ry="6.9" fill="#94c6dc"/>
<ellipse cx="239.4" cy="386.8" rx="5.9" ry="6.9" fill="#75a8cd"/>
<ellipse cx="240.0" cy="389.3" rx="5.9" ry="6.9" fill="#618fc1"/>
<ellipse cx="240.2" cy="382.9" rx="5.9" ry="6.9" fill="#517bb8"/>
<ellipse cx="240.6" cy="387.2" rx="5.9" ry="6.9" fill="#8bbdd8"/>
<ellipse cx="241.1" cy="382.9" rx="5.9" ry="6.9" fill="#96c7dc"/>
<ellipse cx="241.2" cy="393.4" rx="5.9" ry="6.9" fill="#85b8d5"/>
<ellipse cx="242.3" cy="382.0" rx="5.9" ry="6.9" fill="#77aace"/>
<ellipse cx="242.5" cy="381.5" rx="5.9" ry="6.9" fill="#91c3db"/>
<ellipse cx="243.2" cy="381.6" rx="5.9" ry="6.9" fill="#6898c6"/>
<ellipse cx="243.4" cy="381.8" rx="5.9" ry="6.9" fill="#84b7d5"/>
<ellipse cx="243.5" cy="393.8" rx="5.9" ry="6.9" fill="#6a9ac6"/>
<ellipse cx="244.1" cy="381.5" rx="5.9" ry="6.9" fill="#527eb9"/>
<ellipse cx="244.8" cy="381.9" rx="5.9" ry="6.9" fill="#527eb9"/>
<ellipse cx="244.8" cy="381.8" rx="5.9" ry="6.9" fill="#8cbed8"/>
<ellipse cx="244.8" cy="393.1" rx="5.9" ry="6.9" fill="#5986bd"/>
<ellipse cx="245.6" cy="393.9" rx="5.9" ry="6.9" fill="#7bafd0"/>
<ellipse cx="246.1" cy="380.0" rx="5.9" ry="6.9" fill="#5885bd"/>
<ellipse cx="246.2" cy="385.3" rx="5.9" ry="6.9" fill="#84b7d5"/>
<ellipse cx="246.9" cy="393.8" rx="5.9" ry="6.9" fill="#70a1ca"/>
<ellipse cx="247.6" cy="384.6" rx="5.9" ry="6.9" fill="#74a7cd"/>
<ellipse cx="247.8" cy="393.7" rx="5.9" ry="6.9" fill="#5b88be"/>
<ellipse cx="247.9" cy="382.9" rx="5.9" ry="6.9" fill="#5078b6"/>
<ellipse cx="248.8" cy="385.6" rx="5.9" ry="6.9" fill="#77aace"/>
<ellipse cx="249.0" cy="386.0" rx="5.9" ry="6.9" fill="#6d9ec8"/>
<ellipse cx="249.4" cy="379.4" rx="5.9" ry="6.9" fill="#8abcd7"/>
<ellipse cx="249.8" cy="391.2" rx="5.9" ry="6.9" fill="#517cb8"/>
<ellipse cx="250.0" cy="387.4" rx="5.9" ry="6.9" fill="#6291c2"/>
<ellipse cx="250.6" cy="379.8" rx="5.9" ry="6.9" fill="#76a9ce"/>
<ellipse cx="250.7" cy="392.5" rx="5.9" ry="6.9" fill="#90c2da"/>
<ellipse cx="251.4" cy="389.8" rx="5.9" ry="6.9" fill="#5f8dc0"/>
<ellipse cx="251.4" cy="393.6" rx="5.9" ry="6.9" fill="#4e74b4"/>
<ellipse cx="251.8" cy="393.5" rx="5.9" ry="6.9" fill="#537fba"/>
<ellipse cx="252.1" cy="393.5" rx="5.9" ry="6.9" fill="#72a3cb"/>
<ellipse cx="253.0" cy="391.6" rx="5.9" ry="6.9" fill="#7bafd0"/>
<ellipse cx="253.0" cy="388.9" rx="5.9" ry="6.9" fill="#96c8dd"/>
<ellipse cx="253.4" cy="380.8" rx="5.9" ry="6.9" fill="#70a2ca"/>
<ellipse cx="254.0" cy="385.1" rx="5.9" ry="6.9" fill="#8dbfd8"/>
<ellipse cx="254.1" cy="384.9" rx="5.9" ry="6.9" fill="#6ea0c9"/>
<ellipse cx="254.5" cy="388.9" rx="5.9" ry="6.9" fill="#6898c6"/>
<ellipse cx="255.5" cy="382.0" rx="5.9" ry="6.9" fill="#a6d5e4"/>
<ellipse cx="255.7" cy="381.1" rx="5.9" ry="6.9" fill="#6fa1ca"/>
<ellipse cx="256.0" cy="389.3" rx="5.9" ry="6.9" fill="#a2d1e2"/>
<ellipse cx="256.3" cy="381.2" rx="5.9" ry="6.9" fill="#7db0d1"/>
<ellipse cx="256.8" cy="383.3" rx="5.9" ry="6.9" fill="#9ecee0"/>
<ellipse cx="257.2" cy="381.4" rx="5.9" ry="6.9" fill="#99c9de"/>
<ellipse cx="258.0" cy="381.3" rx="5.9" ry="6.9" fill="#90c2da"/>
<ellipse cx="258.3" cy="392.5" rx="5.9" ry="6.9" fill="#b1dfe8"/>
<ellipse cx="258.5" cy="381.3" rx="5.9" ry="6.9" fill="#a0d0e1"/>
<ellipse cx="258.8" cy="380.5" rx="5.9" ry="6.9" fill="#aedde7"/>
<ellipse cx="259.2" cy="392.1" rx="5.9" ry="6.9" fill="#88bbd7"/>
<ellipse cx="259.7" cy="380.8" rx="5.9" ry="6.9" fill="#a6d5e4"/>
<ellipse cx="260.2" cy="390.2" rx="5.9" ry="6.9" fill="#85b8d5"/>
<ellipse cx="260.3" cy="390.5" rx="5.9" ry="6.9" fill="#99cade"/>
<ellipse cx="260.8" cy="380.0" rx="5.9" ry="6.9" fill="#92c4db"/>
<ellipse cx="261.5" cy="391.9" rx="5.9" ry="6.9" fill="#9bccdf"/>
<ellipse cx="261.8" cy="378.9" rx="5.9" ry="6.9" fill="#92c4db"/>
<ellipse cx="262.0" cy="392.1" rx="5.9" ry="6.9" fill="#a5d5e3"/>
<ellipse cx="262.2" cy="391.5" rx="5.9" ry="6.9" fill="#8fc1da"/>
<ellipse cx="262.8" cy="391.6" rx="5.9" ry="6.9" fill="#a6d6e4"/>
<ellipse cx="263.1" cy="378.4" rx="5.9" ry="6.9" fill="#92c4db"/>
<ellipse cx="263.9" cy="392.0" rx="5.9" ry="6.9" fill="#acdbe7"/>
<ellipse cx="264.0" cy="383.0" rx="5.9" ry="6.9" fill="#98c9dd"/>
<ellipse cx="264.6" cy="383.0" rx="5.9" ry="6.9" fill="#95c6dc"/>
<ellipse cx="264.7" cy="389.4" rx="5.9" ry="6.9" fill="#88bbd7"/>
<ellipse cx="265.3" cy="391.1" rx="5.9" ry="6.9" fill="#98c9de"/>
<ellipse cx="265.5" cy="377.9" rx="5.9" ry="6.9" fill="#8fc1d9"/>
<ellipse cx="266.1" cy="391.3" rx="5.9" ry="6.9" fill="#91c3db"/>
<ellipse cx="266.3" cy="387.9" rx="5.9" ry="6.9" fill="#b5e1ea"/>
<ellipse cx="266.5" cy="376.9" rx="5.9" ry="6.9" fill="#b4e1ea"/>
<ellipse cx="266.9" cy="392.1" rx="5.9" ry="6.9" fill="#97c8dd"/>
<ellipse cx="267.6" cy="384.9" rx="5.9" ry="6.9" fill="#a4d3e3"/>
<ellipse cx="267.8" cy="377.5" rx="5.9" ry="6.9" fill="#94c5dc"/>
<ellipse cx="268.3" cy="390.9" rx="5.9" ry="6.9" fill="#a1d1e2"/>
<ellipse cx="268.8" cy="380.7" rx="5.9" ry="6.9" fill="#afdde7"/>
<ellipse cx="269.2" cy="376.2" rx="5.9" ry="6.9" fill="#aedce7"/>
<ellipse cx="269.6" cy="389.6" rx="5.9" ry="6.9" fill="#a0d0e1"/>
<ellipse cx="269.6" cy="376.0" rx="5.9" ry="6.9" fill="#acdbe7"/>
<ellipse cx="270.4" cy="376.4" rx="5.9" ry="6.9" fill="#a2d2e2"/>
<ellipse cx="270.6" cy="375.8" rx="5.9" ry="6.9" fill="#99cade"/>
<ellipse cx="271.1" cy="381.8" rx="5.9" ry="6.9" fill="#a1d1e2"/>
<ellipse cx="271.6" cy="391.4" rx="5.9" ry="6.9" fill="#a6d6e4"/>
<ellipse cx="272.3" cy="381.1" rx="5.9" ry="6.9" fill="#b5e1ea"/>
<ellipse cx="272.8" cy="390.2" rx="5.9" ry="6.9" fill="#94c5dc"/>
<ellipse cx="272.9" cy="392.0" rx="5.9" ry="6.9" fill="#addce7"/>
<ellipse cx="273.3" cy="376.3" rx="5.9" ry="6.9" fill="#9acade"/>
<ellipse cx="273.6" cy="391.7" rx="5.9" ry="6.9" fill="#a3d3e3"/>
<ellipse cx="274.1" cy="392.1" rx="5.9" ry="6.9" fill="#a3d3e3"/>
<ellipse cx="274.4" cy="383.1" rx="5.9" ry="6.9" fill="#92c3db"/>
<ellipse cx="274.5" cy="391.6" rx="5.9" ry="6.9" fill="#9acbde"/>
<ellipse cx="275.0" cy="379.4" rx="5.9" ry="6.9" fill="#b3e0e9"/>
<ellipse cx="276.0" cy="384.0" rx="5.9" ry="6.9" fill="#a1d1e2"/>
<ellipse cx="276.0" cy="383.7" rx="5.9" ry="6.9" fill="#9bccdf"/>
<ellipse cx="276.6" cy="392.4" rx="5.9" ry="6.9" fill="#98c9de"/>
<ellipse cx="277.0" cy="391.3" rx="5.9" ry="6.9" fill="#addce7"/>
<ellipse cx="277.0" cy="389.4" rx="5.9" ry="6.9" fill="#97c8dd"/>
<ellipse cx="277.5" cy="392.2" rx="5.9" ry="6.9" fill="#91c2da"/>
<ellipse cx="278.1" cy="386.4" rx="5.9" ry="6.9" fill="#b7e2ea"/>
<ellipse cx="278.7" cy="376.6" rx="5.9" ry="6.9" fill="#95c6dc"/>
<ellipse cx="279.2" cy="393.2" rx="5.9" ry="6.9" fill="#afdee8"/>
<ellipse cx="279.5" cy="378.3" rx="5.9" ry="6.9" fill="#b1dfe9"/>
<ellipse cx="279.6" cy="384.9" rx="5.9" ry="6.9" fill="#a3d2e2"/>
<ellipse cx="280.0" cy="389.9" rx="5.9" ry="6.9" fill="#b8e3eb"/>
<ellipse cx="280.5" cy="385.5" rx="5.9" ry="6.9" fill="#a0d0e1"/>
<ellipse cx="280.6" cy="377.0" rx="5.9" ry="6.9" fill="#9cccdf"/>
<ellipse cx="281.5" cy="388.7" rx="5.9" ry="6.9" fill="#bde5ec"/>
<ellipse cx="282.0" cy="381.9" rx="5.9" ry="6.9" fill="#bee6ec"/>
<ellipse cx="282.0" cy="382.8" rx="5.9" ry="6.9" fill="#a0d0e1"/>
<ellipse cx="282.6" cy="377.7" rx="5.9" ry="6.9" fill="#acdae6"/>
<ellipse cx="282.7" cy="395.3" rx="5.9" ry="6.9" fill="#addce7"/>
<ellipse cx="281.0" cy="376.3" rx="5.9" ry="6.9" fill="#f2fec6"/>
<ellipse cx="283.6" cy="377.3" rx="5.9" ry="6.9" fill="#a2d2e2"/>
<ellipse cx="283.6" cy="385.1" rx="5.9" ry="6.9" fill="#a4d4e3"/>
<ellipse cx="284.2" cy="389.8" rx="5.9" ry="6.9" fill="#bce5ec"/>
<ellipse cx="284.2" cy="379.8" rx="5.9" ry="6.9" fill="#a5d4e3"/>
<ellipse cx="285.0" cy="396.9" rx="5.9" ry="6.9" fill="#a8d7e5"/>
<ellipse cx="285.4" cy="378.3" rx="5.9" ry="6.9" fill="#a9d8e5"/>
<ellipse cx="285.8" cy="384.5" rx="5.9" ry="6.9" fill="#b3e0e9"/>
<ellipse cx="286.4" cy="386.9" rx="5.9" ry="6.9" fill="#92c4db"/>
<ellipse cx="286.6" cy="380.6" rx="5.9" ry="6.9" fill="#90c2da"/>
<ellipse cx="286.8" cy="396.8" rx="5.9" ry="6.9" fill="#addce7"/>
<ellipse cx="287.0" cy="397.2" rx="5.9" ry="6.9" fill="#a1d1e1"/>
<ellipse cx="287.2" cy="383.1" rx="5.9" ry="6.9" fill="#8ec0d9"/>
<ellipse cx="288.4" cy="381.8" rx="5.9" ry="6.9" fill="#a2d2e2"/>
<ellipse cx="288.8" cy="389.5" rx="5.9" ry="6.9" fill="#a7d6e4"/>
<ellipse cx="288.8" cy="382.7" rx="5.9" ry="6.9" fill="#95c6dc"/>
<ellipse cx="289.4" cy="397.2" rx="5.9" ry="6.9" fill="#b4e1ea"/>
<ellipse cx="289.6" cy="389.8" rx="5.9" ry="6.9" fill="#9bcbdf"/>
<ellipse cx="290.2" cy="397.1" rx="5.9" ry="6.9" fill="#9ccddf"/>
<ellipse cx="290.3" cy="390.5" rx="5.9" ry="6.9" fill="#b3e0e9"/>
<ellipse cx="290.9" cy="397.3" rx="5.9" ry="6.9" fill="#afdde7"/>
<ellipse cx="291.3" cy="388.3" rx="5.9" ry="6.9" fill="#acdae6"/>
<ellipse cx="291.6" cy="397.5" rx="5.9" ry="6.9" fill="#99cade"/>
<ellipse cx="291.8" cy="390.2" rx="5.9" ry="6.9" fill="#a8d7e5"/>
<ellipse cx="292.2" cy="397.2" rx="5.9" ry="6.9" fill="#95c6dc"/>
<ellipse cx="292.4" cy="397.0" rx="5.9" ry="6.9" fill="#92c4db"/>
<ellipse cx="293.3" cy="395.6" rx="5.9" ry="6.9" fill="#b1dfe9"/>
<ellipse cx="293.4" cy="394.8" rx="5.9" ry="6.9" fill="#addbe7"/>
<ellipse cx="293.7" cy="392.4" rx="5.9" ry="6.9" fill="#a3d3e2"/>
<ellipse cx="294.2" cy="389.6" rx="5.9" ry="6.9" fill="#acdae6"/>
<ellipse cx="294.9" cy="392.2" rx="5.9" ry="6.9" fill="#a0d1e1"/>
<ellipse cx="295.1" cy="393.9" rx="5.9" ry="6.9" fill="#97c8dd"/>
<ellipse cx="295.7" cy="397.5" rx="5.9" ry="6.9" fill="#9acade"/>
<ellipse cx="296.0" cy="386.5" rx="5.9" ry="6.9" fill="#9fcfe1"/>
<ellipse cx="296.3" cy="397.5" rx="5.9" ry="6.9" fill="#aad9e5"/>
<ellipse cx="296.7" cy="397.8" rx="5.9" ry="6.9" fill="#a3d2e2"/>
<ellipse cx="297.5" cy="388.3" rx="5.9" ry="6.9" fill="#98c9dd"/>
<ellipse cx="297.6" cy="389.9" rx="5.9" ry="6.9" fill="#a0d0e1"/>
<ellipse cx="297.8" cy="398.0" rx="5.9" ry="6.9" fill="#8ec0d9"/>
<ellipse cx="298.6" cy="396.5" rx="5.9" ry="6.9" fill="#93c4db"/>
<ellipse cx="298.7" cy="397.4" rx="5.9" ry="6.9" fill="#93c5db"/>
<ellipse cx="299.6" cy="396.1" rx="5.9" ry="6.9" fill="#a4d4e3"/>
<ellipse cx="299.8" cy="389.5" rx="5.9" ry="6.9" fill="#9acbde"/>
<ellipse cx="300.0" cy="397.9" rx="5.9" ry="6.9" fill="#a7d6e4"/>
<ellipse cx="300.1" cy="396.8" rx="5.9" ry="6.9" fill="#95c6dc"/>
<ellipse cx="300.3" cy="397.7" rx="5.9" ry="6.9" fill="#9dcee0"/>
<ellipse cx="300.8" cy="393.9" rx="5.9" ry="6.9" fill="#91c3da"/>
<ellipse cx="300.9" cy="388.4" rx="5.9" ry="6.9" fill="#addce7"/>
<ellipse cx="300.9" cy="394.1" rx="5.9" ry="6.9" fill="#b8e3eb"/>
<ellipse cx="301.6" cy="388.9" rx="5.9" ry="6.9" fill="#98c9dd"/>
<ellipse cx="301.8" cy="391.5" rx="5.9" ry="6.9" fill="#a8d7e4"/>
<ellipse cx="301.9" cy="397.8" rx="5.9" ry="6.9" fill="#9ecee0"/>
<ellipse cx="302.1" cy="388.9" rx="5.9" ry="6.9" fill="#b1dfe9"/>
<ellipse cx="303.0" cy="394.6" rx="5.9" ry="6.9" fill="#b7e2ea"/>
<ellipse cx="303.0" cy="393.2" rx="5.9" ry="6.9" fill="#aedde7"/>
<ellipse cx="303.2" cy="396.5" rx="5.9" ry="6.9" fill="#c5e9ee"/>
<ellipse cx="303.3" cy="397.9" rx="5.9" ry="6.9" fill="#b1dfe9"/>
<ellipse cx="303.7" cy="398.4" rx="5.9" ry="6.9" fill="#c2e8ed"/>
<ellipse cx="304.4" cy="391.0" rx="5.9" ry="6.9" fill="#c6e9ee"/>
<ellipse cx="304.8" cy="394.2" rx="5.9" ry="6.9" fill="#b1dfe8"/>
<ellipse cx="305.1" cy="395.2" rx="5.9" ry="6.9" fill="#afdde8"/>
<ellipse cx="305.2" cy="398.1" rx="5.9" ry="6.9" fill="#e9fadf"/>
<ellipse cx="305.3" cy="392.2" rx="5.9" ry="6.9" fill="#e8f9e1"/>
<ellipse cx="305.6" cy="392.7" rx="5.9" ry="6.9" fill="#bfe6ec"/>
<ellipse cx="306.0" cy="396.3" rx="5.9" ry="6.9" fill="#c1e7ed"/>
<ellipse cx="306.3" cy="397.6" rx="5.9" ry="6.9" fill="#addbe7"/>
<ellipse cx="306.7" cy="400.6" rx="5.9" ry="6.9" fill="#e9fadf"/>
<ellipse cx="307.2" cy="401.2" rx="5.9" ry="6.9" fill="#eefcd0"/>
<ellipse cx="307.3" cy="392.6" rx="5.9" ry="6.9" fill="#c9ebef"/>
<ellipse cx="307.5" cy="393.6" rx="5.9" ry="6.9" fill="#c2e7ed"/>
<ellipse cx="308.2" cy="392.8" rx="5.9" ry="6.9" fill="#a7d6e4"/>
<ellipse cx="308.2" cy="405.6" rx="5.9" ry="6.9" fill="#caebf0"/>
<ellipse cx="308.3" cy="405.9" rx="5.9" ry="6.9" fill="#9ecfe0"/>
<ellipse cx="308.7" cy="396.6" rx="5.9" ry="6.9" fill="#c3e8ee"/>
<ellipse cx="309.1" cy="396.5" rx="5.9" ry="6.9" fill="#abdae6"/>
<ellipse cx="309.5" cy="409.0" rx="5.9" ry="6.9" fill="#bfe6ed"/>
<ellipse cx="309.6" cy="393.0" rx="5.9" ry="6.9" fill="#a8d7e4"/>
<ellipse cx="309.8" cy="401.3" rx="5.9" ry="6.9" fill="#9ccddf"/>
<ellipse cx="310.1" cy="393.8" rx="5.9" ry="6.9" fill="#9acade"/>
<ellipse cx="310.2" cy="411.0" rx="5.9" ry="6.9" fill="#b9e3eb"/>
<ellipse cx="309.0" cy="396.5" rx="5.9" ry="6.9" fill="#f0fdcb"/>
<ellipse cx="310.6" cy="402.3" rx="5.9" ry="6.9" fill="#c2e7ed"/>
<ellipse cx="310.7" cy="394.4" rx="5.9" ry="6.9" fill="#9bcbdf"/>
<ellipse cx="311.4" cy="409.0" rx="5.9" ry="6.9" fill="#98c9dd"/>
<ellipse cx="311.6" cy="396.9" rx="5.9" ry="6.9" fill="#c5e9ee"/>
<ellipse cx="311.9" cy="401.9" rx="5.9" ry="6.9" fill="#96c7dd"/>
<ellipse cx="312.3" cy="403.5" rx="5.9" ry="6.9" fill="#a4d3e3"/>
<ellipse cx="312.6" cy="402.7" rx="5.9" ry="6.9" fill="#c3e8ee"/>
<ellipse cx="312.9" cy="404.7" rx="5.9" ry="6.9" fill="#9ccddf"/>
<ellipse cx="313.1" cy="414.2" rx="5.9" ry="6.9" fill="#b3e0e9"/>
<ellipse cx="313.4" cy="406.0" rx="5.9" ry="6.9" fill="#b5e1ea"/>
<ellipse cx="313.8" cy="407.1" rx="5.9" ry="6.9" fill="#b3e0e9"/>
<ellipse cx="314.0" cy="408.1" rx="5.9" ry="6.9" fill="#a6d6e4"/>
<ellipse cx="314.2" cy="414.7" rx="5.9" ry="6.9" fill="#93c4db"/>
<ellipse cx="314.4" cy="414.0" rx="5.9" ry="6.9" fill="#b6e2ea"/>
<ellipse cx="315.4" cy="415.4" rx="5.9" ry="6.9" fill="#b9e3eb"/>
<ellipse cx="315.7" cy="415.3" rx="5.9" ry="6.9" fill="#a3d3e2"/>
<ellipse cx="315.9" cy="413.2" rx="5.9" ry="6.9" fill="#bee6ec"/>
<ellipse cx="316.0" cy="416.7" rx="5.9" ry="6.9" fill="#96c7dd"/>
<ellipse cx="316.0" cy="409.7" rx="5.9" ry="6.9" fill="#91c3da"/>
<ellipse cx="316.6" cy="411.9" rx="5.9" ry="6.9" fill="#a0d0e1"/>
<ellipse cx="316.7" cy="411.7" rx="5.9" ry="6.9" fill="#aad9e5"/>
<ellipse cx="316.8" cy="417.1" rx="5.9" ry="6.9" fill="#98c9dd"/>
<ellipse cx="317.7" cy="411.1" rx="5.9" ry="6.9" fill="#b1dfe8"/>
<ellipse cx="317.8" cy="410.2" rx="5.9" ry="6.9" fill="#9dcee0"/>
<ellipse cx="317.9" cy="420.4" rx="5.9" ry="6.9" fill="#bae4eb"/>
<ellipse cx="318.4" cy="423.0" rx="5.9" ry="6.9" fill="#b1dfe8"/>
<ellipse cx="318.7" cy="411.6" rx="5.9" ry="6.9" fill="#bae4eb"/>
<ellipse cx="318.9" cy="420.3" rx="5.9" ry="6.9" fill="#b9e3eb"/>
<ellipse cx="319.1" cy="411.0" rx="5.9" ry="6.9" fill="#9fcfe0"/>
<ellipse cx="319.4" cy="416.5" rx="5.9" ry="6.9" fill="#8ec0d9"/>
<ellipse cx="319.5" cy="411.6" rx="5.9" ry="6.9" fill="#b2e0e9"/>
<ellipse cx="320.1" cy="411.9" rx="5.9" ry="6.9" fill="#b1dfe8"/>
<ellipse cx="320.1" cy="425.4" rx="5.9" ry="6.9" fill="#90c2da"/>
<ellipse cx="320.8" cy="422.1" rx="5.9" ry="6.9" fill="#b4e1e9"/>
<ellipse cx="321.1" cy="418.6" rx="5.9" ry="6.9" fill="#89bcd7"/>
<ellipse cx="321.2" cy="421.5" rx="5.9" ry="6.9" fill="#b8e3eb"/>
<ellipse cx="321.3" cy="419.4" rx="5.9" ry="6.9" fill="#a2d2e2"/>
<ellipse cx="321.7" cy="422.2" rx="5.9" ry="6.9" fill="#b9e3eb"/>
<ellipse cx="322.3" cy="419.6" rx="5.9" ry="6.9" fill="#b1dfe8"/>
<ellipse cx="322.5" cy="412.2" rx="5.9" ry="6.9" fill="#8dbfd9"/>
<ellipse cx="322.8" cy="417.9" rx="5.9" ry="6.9" fill="#a1d1e1"/>
<ellipse cx="323.1" cy="412.2" rx="5.9" ry="6.9" fill="#a7d7e4"/>
<ellipse cx="323.1" cy="426.4" rx="5.9" ry="6.9" fill="#b6e2ea"/>
<ellipse cx="324.2" cy="419.0" rx="5.9" ry="6.9" fill="#90c2da"/>
<ellipse cx="324.2" cy="412.8" rx="5.9" ry="6.9" fill="#acdae6"/>
<ellipse cx="324.4" cy="412.6" rx="5.9" ry="6.9" fill="#b8e3eb"/>
<ellipse cx="325.0" cy="413.5" rx="5.9" ry="6.9" fill="#8cbed8"/>
<ellipse cx="325.5" cy="423.2" rx="5.9" ry="6.9" fill="#94c6dc"/>
<ellipse cx="325.9" cy="416.2" rx="5.9" ry="6.9" fill="#b8e3eb"/>
<ellipse cx="326.0" cy="412.6" rx="5.9" ry="6.9" fill="#bae4eb"/>
<ellipse cx="326.6" cy="424.6" rx="5.9" ry="6.9" fill="#b3e0e9"/>
<ellipse cx="326.7" cy="412.3" rx="5.9" ry="6.9" fill="#bbe4eb"/>
<ellipse cx="327.5" cy="416.3" rx="5.9" ry="6.9" fill="#93c5db"/>
<ellipse cx="327.7" cy="425.3" rx="5.9" ry="6.9" fill="#afdde8"/>
<ellipse cx="328.1" cy="412.0" rx="5.9" ry="6.9" fill="#93c5db"/>
<ellipse cx="328.8" cy="416.8" rx="5.9" ry="6.9" fill="#9ecee0"/>
<ellipse cx="328.9" cy="413.4" rx="5.9" ry="6.9" fill="#b0dee8"/>
<ellipse cx="329.1" cy="419.9" rx="5.9" ry="6.9" fill="#b8e3eb"/>
<ellipse cx="329.7" cy="416.6" rx="5.9" ry="6.9" fill="#a1d1e1"/>
<ellipse cx="330.1" cy="424.9" rx="5.9" ry="6.9" fill="#b7e3eb"/>
<ellipse cx="330.2" cy="416.6" rx="5.9" ry="6.9" fill="#addce7"/>
<ellipse cx="330.6" cy="411.8" rx="5.9" ry="6.9" fill="#bce4ec"/>
<ellipse cx="330.8" cy="411.1" rx="5.9" ry="6.9" fill="#aedce7"/>
<ellipse cx="331.4" cy="424.2" rx="5.9" ry="6.9" fill="#97c9dd"/>
<ellipse cx="331.7" cy="413.6" rx="5.9" ry="6.9" fill="#9bccdf"/>
<ellipse cx="332.1" cy="411.1" rx="5.9" ry="6.9" fill="#aedde7"/>
<ellipse cx="332.6" cy="410.8" rx="5.9" ry="6.9" fill="#acdbe7"/>
<ellipse cx="332.7" cy="410.7" rx="5.9" ry="6.9" fill="#90c2da"/>
<ellipse cx="333.5" cy="418.4" rx="5.9" ry="6.9" fill="#93c4db"/>
<ellipse cx="333.7" cy="424.2" rx="5.9" ry="6.9" fill="#c0e6ed"/>
<ellipse cx="333.9" cy="411.5" rx="5.9" ry="6.9" fill="#91c3da"/>
<ellipse cx="334.6" cy="416.6" rx="5.9" ry="6.9" fill="#b7e2ea"/>
<ellipse cx="334.7" cy="418.2" rx="5.9" ry="6.9" fill="#bde5ec"/>
<ellipse cx="335.4" cy="421.1" rx="5.9" ry="6.9" fill="#bae4eb"/>
<ellipse cx="335.5" cy="415.7" rx="5.9" ry="6.9" fill="#a9d8e5"/>
<ellipse cx="336.0" cy="409.9" rx="5.9" ry="6.9" fill="#c1e7ed"/>
<ellipse cx="336.3" cy="417.8" rx="5.9" ry="6.9" fill="#9ccddf"/>
<ellipse cx="336.5" cy="421.2" rx="5.9" ry="6.9" fill="#8dbfd8"/>
<ellipse cx="337.3" cy="410.7" rx="5.9" ry="6.9" fill="#9cccdf"/>
<ellipse cx="337.5" cy="415.6" rx="5.9" ry="6.9" fill="#aad9e6"/>
<ellipse cx="337.7" cy="423.4" rx="5.9" ry="6.9" fill="#93c5db"/>
<ellipse cx="338.5" cy="423.7" rx="5.9" ry="6.9" fill="#bce4ec"/>
<ellipse cx="338.6" cy="417.9" rx="5.9" ry="6.9" fill="#8dbfd9"/>
<ellipse cx="338.8" cy="421.2" rx="5.9" ry="6.9" fill="#c2e7ed"/>
<ellipse cx="339.5" cy="409.7" rx="5.9" ry="6.9" fill="#c0e7ed"/>
<ellipse cx="340.0" cy="409.8" rx="5.9" ry="6.9" fill="#9bccdf"/>
<ellipse cx="340.1" cy="415.7" rx="5.9" ry="6.9" fill="#a9d8e5"/>
<ellipse cx="340.6" cy="409.4" rx="5.9" ry="6.9" fill="#aad9e5"/>
<ellipse cx="340.7" cy="419.2" rx="5.9" ry="6.9" fill="#b9e3eb"/>
<ellipse cx="341.0" cy="409.5" rx="5.9" ry="6.9" fill="#c9ebef"/>
<ellipse cx="341.8" cy="414.3" rx="5.9" ry="6.9" fill="#a5d4e3"/>
<ellipse cx="341.8" cy="423.2" rx="5.9" ry="6.9" fill="#aad9e5"/>
<ellipse cx="342.2" cy="411.9" rx="5.9" ry="6.9" fill="#c3e8ee"/>
<ellipse cx="342.7" cy="408.4" rx="5.9" ry="6.9" fill="#c7eaef"/>
<ellipse cx="343.1" cy="413.3" rx="5.9" ry="6.9" fill="#bbe4eb"/>
<ellipse cx="343.7" cy="408.2" rx="5.9" ry="6.9" fill="#b2e0e9"/>
<ellipse cx="344.0" cy="421.9" rx="5.9" ry="6.9" fill="#c3e8ee"/>
<ellipse cx="344.2" cy="422.6" rx="5.9" ry="6.9" fill="#d1eff2"/>
<ellipse cx="344.6" cy="420.7" rx="5.9" ry="6.9" fill="#eafade"/>
<ellipse cx="344.8" cy="422.0" rx="5.9" ry="6.9" fill="#caebf0"/>
<ellipse cx="345.2" cy="422.1" rx="5.9" ry="6.9" fill="#c1e7ed"/>
<ellipse cx="346.0" cy="406.6" rx="5.9" ry="6.9" fill="#ccecf0"/>
<ellipse cx="346.3" cy="422.5" rx="5.9" ry="6.9" fill="#d3eff2"/>
<ellipse cx="346.5" cy="422.2" rx="5.9" ry="6.9" fill="#b9e3eb"/>
<ellipse cx="347.0" cy="405.5" rx="5.9" ry="6.9" fill="#effcce"/>
<ellipse cx="347.7" cy="414.2" rx="5.9" ry="6.9" fill="#bbe4ec"/>
<ellipse cx="347.8" cy="413.5" rx="5.9" ry="6.9" fill="#caebf0"/>
<ellipse cx="348.4" cy="419.2" rx="5.9" ry="6.9" fill="#e1f6f5"/>
<ellipse cx="348.9" cy="413.9" rx="5.9" ry="6.9" fill="#d7f1f3"/>
<ellipse cx="349.1" cy="405.4" rx="5.9" ry="6.9" fill="#dff5f5"/>
<ellipse cx="349.7" cy="405.2" rx="5.9" ry="6.9" fill="#d5f0f3"/>
<ellipse cx="349.7" cy="404.6" rx="5.9" ry="6.9" fill="#caebf0"/>
<ellipse cx="350.3" cy="409.4" rx="5.9" ry="6.9" fill="#e9fadf"/>
<ellipse cx="350.7" cy="417.4" rx="5.9" ry="6.9" fill="#eefcd3"/>
<ellipse cx="350.8" cy="404.4" rx="5.9" ry="6.9" fill="#ebfbd9"/>
<ellipse cx="351.2" cy="404.2" rx="5.9" ry="6.9" fill="#e6f8e8"/>
<ellipse cx="351.6" cy="420.3" rx="5.9" ry="6.9" fill="#d1eef1"/>
<ellipse cx="352.4" cy="410.9" rx="5.9" ry="6.9" fill="#e2f6f3"/>
<ellipse cx="352.4" cy="417.6" rx="5.9" ry="6.9" fill="#d6f1f3"/>
<ellipse cx="352.6" cy="413.6" rx="5.9" ry="6.9" fill="#daf3f4"/>
<ellipse cx="353.4" cy="402.8" rx="5.9" ry="6.9" fill="#d5f0f3"/>
<ellipse cx="353.9" cy="402.8" rx="5.9" ry="6.9" fill="#d6f1f3"/>
<ellipse cx="354.1" cy="420.0" rx="5.9" ry="6.9" fill="#e7f9e6"/>
<ellipse cx="354.1" cy="415.7" rx="5.9" ry="6.9" fill="#e4f7ee"/>
<ellipse cx="354.4" cy="414.2" rx="5.9" ry="6.9" fill="#d8f2f3"/>
<ellipse cx="355.4" cy="406.2" rx="5.9" ry="6.9" fill="#d4f0f2"/>
<ellipse cx="355.5" cy="403.1" rx="5.9" ry="6.9" fill="#e4f7ed"/>
<ellipse cx="355.5" cy="417.5" rx="5.9" ry="6.9" fill="#e5f8ec"/>
<ellipse cx="356.5" cy="414.7" rx="5.9" ry="6.9" fill="#e2f6f5"/>
<ellipse cx="356.6" cy="403.2" rx="5.9" ry="6.9" fill="#dcf4f5"/>
<ellipse cx="357.2" cy="403.9" rx="5.9" ry="6.9" fill="#e5f8eb"/>
<ellipse cx="357.4" cy="406.4" rx="5.9" ry="6.9" fill="#daf3f4"/>
<ellipse cx="357.5" cy="402.7" rx="5.9" ry="6.9" fill="#d8f2f4"/>
<ellipse cx="358.2" cy="420.5" rx="5.9" ry="6.9" fill="#e1f6f6"/>
<ellipse cx="358.5" cy="420.6" rx="5.9" ry="6.9" fill="#c0e7ed"/>
<ellipse cx="358.6" cy="403.5" rx="5.9" ry="6.9" fill="#d9f2f4"/>
<ellipse cx="359.2" cy="417.6" rx="5.9" ry="6.9" fill="#d9f2f4"/>
<ellipse cx="359.5" cy="419.4" rx="5.9" ry="6.9" fill="#d1eff2"/>
<ellipse cx="359.9" cy="414.5" rx="5.9" ry="6.9" fill="#cfeef1"/>
<ellipse cx="360.5" cy="403.6" rx="5.9" ry="6.9" fill="#c1e7ed"/>
<ellipse cx="361.1" cy="417.3" rx="5.9" ry="6.9" fill="#cbecf0"/>
<ellipse cx="361.4" cy="421.6" rx="5.9" ry="6.9" fill="#b5e2ea"/>
<ellipse cx="361.5" cy="421.7" rx="5.9" ry="6.9" fill="#aad9e5"/>
<ellipse cx="362.1" cy="421.5" rx="5.9" ry="6.9" fill="#97c8dd"/>
<ellipse cx="362.1" cy="422.0" rx="5.9" ry="6.9" fill="#acdae6"/>
<ellipse cx="362.7" cy="403.5" rx="5.9" ry="6.9" fill="#b7e3eb"/>
<ellipse cx="362.9" cy="408.4" rx="5.9" ry="6.9" fill="#a7d6e4"/>
<ellipse cx="363.5" cy="422.2" rx="5.9" ry="6.9" fill="#b1dfe9"/>
<ellipse cx="364.0" cy="417.9" rx="5.9" ry="6.9" fill="#90c2da"/>
<ellipse cx="364.2" cy="423.0" rx="5.9" ry="6.9" fill="#b1dfe9"/>
<ellipse cx="364.6" cy="415.5" rx="5.9" ry="6.9" fill="#93c5db"/>
<ellipse cx="365.1" cy="422.8" rx="5.9" ry="6.9" fill="#9fcfe0"/>
<ellipse cx="365.2" cy="423.6" rx="5.9" ry="6.9" fill="#9bcbdf"/>
<ellipse cx="365.7" cy="423.4" rx="5.9" ry="6.9" fill="#91c3db"/>
<ellipse cx="366.0" cy="422.0" rx="5.9" ry="6.9" fill="#b8e3eb"/>
<ellipse cx="366.2" cy="404.2" rx="5.9" ry="6.9" fill="#93c4db"/>
<ellipse cx="366.2" cy="412.8" rx="5.9" ry="6.9" fill="#8fc1d9"/>
<ellipse cx="366.7" cy="404.0" rx="5.9" ry="6.9" fill="#90c2da"/>
<ellipse cx="366.9" cy="410.4" rx="5.9" ry="6.9" fill="#aedde7"/>
<ellipse cx="367.0" cy="422.9" rx="5.9" ry="6.9" fill="#aad9e6"/>
<ellipse cx="367.1" cy="409.3" rx="5.9" ry="6.9" fill="#99cade"/>
<ellipse cx="367.3" cy="424.5" rx="5.9" ry="6.9" fill="#a6d5e4"/>
<ellipse cx="367.6" cy="403.9" rx="5.9" ry="6.9" fill="#a7d6e4"/>
<ellipse cx="367.8" cy="411.3" rx="5.9" ry="6.9" fill="#95c7dc"/>
<ellipse cx="368.0" cy="424.9" rx="5.9" ry="6.9" fill="#93c5db"/>
<ellipse cx="368.5" cy="425.9" rx="5.9" ry="6.9" fill="#b4e1ea"/>
<ellipse cx="368.7" cy="406.0" rx="5.9" ry="6.9" fill="#8fc1d9"/>
<ellipse cx="368.9" cy="404.2" rx="5.9" ry="6.9" fill="#97c8dd"/>
<ellipse cx="369.1" cy="404.0" rx="5.9" ry="6.9" fill="#8fc1da"/>
<ellipse cx="369.1" cy="410.0" rx="5.9" ry="6.9" fill="#94c5dc"/>
<ellipse cx="369.3" cy="418.2" rx="5.9" ry="6.9" fill="#8fc1da"/>
<ellipse cx="369.5" cy="404.2" rx="5.9" ry="6.9" fill="#95c7dc"/>
<ellipse cx="369.6" cy="407.1" rx="5.9" ry="6.9" fill="#a2d2e2"/>
<ellipse cx="369.7" cy="412.8" rx="5.9" ry="6.9" fill="#addce7"/>
<ellipse cx="370.2" cy="405.5" rx="5.9" ry="6.9" fill="#a3d3e2"/>
<ellipse cx="370.2" cy="428.2" rx="5.9" ry="6.9" fill="#97c8dd"/>
<ellipse cx="370.3" cy="439.0" rx="5.9" ry="6.9" fill="#92c4db"/>
<ellipse cx="370.9" cy="409.0" rx="5.9" ry="6.9" fill="#b3e0e9"/>
<ellipse cx="370.9" cy="430.0" rx="5.9" ry="6.9" fill="#96c7dd"/>
<ellipse cx="371.2" cy="439.3" rx="5.9" ry="6.9" fill="#97c8dd"/>
<ellipse cx="371.2" cy="427.6" rx="5.9" ry="6.9" fill="#99cade"/>
<ellipse cx="371.2" cy="416.9" rx="5.9" ry="6.9" fill="#96c7dd"/>
<ellipse cx="371.7" cy="425.4" rx="5.9" ry="6.9" fill="#aad9e5"/>
<ellipse cx="371.9" cy="438.2" rx="5.9" ry="6.9" fill="#b1dfe9"/>
<ellipse cx="372.0" cy="430.8" rx="5.9" ry="6.9" fill="#a6d6e4"/>
<ellipse cx="372.1" cy="436.3" rx="5.9" ry="6.9" fill="#b1dfe8"/>
<ellipse cx="372.5" cy="436.6" rx="5.9" ry="6.9" fill="#9dcde0"/>
<ellipse cx="372.7" cy="439.4" rx="5.9" ry="6.9" fill="#b7e2ea"/>
<ellipse cx="372.7" cy="434.2" rx="5.9" ry="6.9" fill="#acdbe6"/>
<ellipse cx="373.1" cy="436.5" rx="5.9" ry="6.9" fill="#9fcfe1"/>
<ellipse cx="373.2" cy="434.4" rx="5.9" ry="6.9" fill="#a7d6e4"/>
<ellipse cx="373.2" cy="436.7" rx="5.9" ry="6.9" fill="#a8d7e4"/>
<ellipse cx="374.0" cy="439.3" rx="5.9" ry="6.9" fill="#afdde7"/>
<ellipse cx="374.1" cy="434.1" rx="5.9" ry="6.9" fill="#a9d8e5"/>
<ellipse cx="374.2" cy="437.7" rx="5.9" ry="6.9" fill="#b2e0e9"/>
<ellipse cx="375.1" cy="434.6" rx="5.9" ry="6.9" fill="#b9e3eb"/>
<ellipse cx="375.7" cy="440.1" rx="5.9" ry="6.9" fill="#b1dfe9"/>
<ellipse cx="376.0" cy="435.4" rx="5.9" ry="6.9" fill="#a1d1e2"/>
<ellipse cx="376.0" cy="434.6" rx="5.9" ry="6.9" fill="#a1d1e2"/>
<ellipse cx="376.7" cy="439.7" rx="5.9" ry="6.9" fill="#b6e2ea"/>
<ellipse cx="377.1" cy="439.6" rx="5.9" ry="6.9" fill="#a8d7e5"/>
<ellipse cx="377.2" cy="436.6" rx="5.9" ry="6.9" fill="#bce4ec"/>
<ellipse cx="377.9" cy="436.5" rx="5.9" ry="6.9" fill="#a4d4e3"/>
<ellipse cx="378.4" cy="440.2" rx="5.9" ry="6.9" fill="#b7e2ea"/>
<ellipse cx="378.9" cy="440.0" rx="5.9" ry="6.9" fill="#bbe4eb"/>
<ellipse cx="379.1" cy="438.2" rx="5.9" ry="6.9" fill="#bbe4ec"/>
<ellipse cx="379.5" cy="440.0" rx="5.9" ry="6.9" fill="#b1e0e9"/>
<ellipse cx="379.7" cy="438.9" rx="5.9" ry="6.9" fill="#a7d7e4"/>
<ellipse cx="380.3" cy="439.6" rx="5.9" ry="6.9" fill="#b1dfe8"/>
<ellipse cx="380.4" cy="438.7" rx="5.9" ry="6.9" fill="#b1dfe9"/>
<ellipse cx="380.8" cy="435.5" rx="5.9" ry="6.9" fill="#bae4eb"/>
<ellipse cx="381.6" cy="435.4" rx="5.9" ry="6.9" fill="#a9d8e5"/>
<ellipse cx="381.6" cy="437.8" rx="5.9" ry="6.9" fill="#aedde7"/>
<ellipse cx="382.3" cy="435.6" rx="5.9" ry="6.9" fill="#a6d5e4"/>
<ellipse cx="382.6" cy="437.6" rx="5.9" ry="6.9" fill="#b3e0e9"/>
<ellipse cx="383.3" cy="438.0" rx="5.9" ry="6.9" fill="#b7e2ea"/>
<ellipse cx="383.4" cy="436.3" rx="5.9" ry="6.9" fill="#b6e2ea"/>
<ellipse cx="384.1" cy="437.7" rx="5.9" ry="6.9" fill="#bde5ec"/>
<ellipse cx="384.2" cy="439.8" rx="5.9" ry="6.9" fill="#b6e2ea"/>
<ellipse cx="384.7" cy="435.1" rx="5.9" ry="6.9" fill="#b2e0e9"/>
<ellipse cx="385.1" cy="437.4" rx="5.9" ry="6.9" fill="#b6e2ea"/>
<ellipse cx="385.5" cy="437.4" rx="5.9" ry="6.9" fill="#bce5ec"/>
<ellipse cx="385.5" cy="438.6" rx="5.9" ry="6.9" fill="#b1dfe9"/>
<ellipse cx="385.9" cy="437.0" rx="5.9" ry="6.9" fill="#a6d5e4"/>
<ellipse cx="386.3" cy="436.0" rx="5.9" ry="6.9" fill="#b0dee8"/>
<ellipse cx="387.0" cy="435.1" rx="5.9" ry="6.9" fill="#bce5ec"/>
<ellipse cx="387.4" cy="437.5" rx="5.9" ry="6.9" fill="#a6d5e4"/>
<ellipse cx="387.8" cy="435.7" rx="5.9" ry="6.9" fill="#b1dfe8"/>
<ellipse cx="388.3" cy="438.3" rx="5.9" ry="6.9" fill="#abd9e6"/>
<ellipse cx="388.7" cy="440.0" rx="5.9" ry="6.9" fill="#bae4eb"/>
<ellipse cx="389.0" cy="436.6" rx="5.9" ry="6.9" fill="#a6d5e4"/>
<ellipse cx="389.4" cy="440.0" rx="5.9" ry="6.9" fill="#a9d8e5"/>
<ellipse cx="389.8" cy="439.4" rx="5.9" ry="6.9" fill="#a8d7e5"/>
<ellipse cx="390.3" cy="440.2" rx="5.9" ry="6.9" fill="#b6e2ea"/>
<ellipse cx="390.6" cy="439.8" rx="5.9" ry="6.9" fill="#a9d8e5"/>
<ellipse cx="391.0" cy="439.1" rx="5.9" ry="6.9" fill="#a4d4e3"/>
<ellipse cx="391.0" cy="440.0" rx="5.9" ry="6.9" fill="#b0dfe8"/>
<ellipse cx="391.5" cy="435.7" rx="5.9" ry="6.9" fill="#a9d8e5"/>
<ellipse cx="391.8" cy="439.6" rx="5.9" ry="6.9" fill="#a2d2e2"/>
<ellipse cx="392.7" cy="435.3" rx="5.9" ry="6.9" fill="#b0dee8"/>
<ellipse cx="392.8" cy="438.2" rx="5.9" ry="6.9" fill="#bbe4eb"/>
<ellipse cx="393.4" cy="440.1" rx="5.9" ry="6.9" fill="#a4d4e3"/>
<ellipse cx="393.9" cy="435.4" rx="5.9" ry="6.9" fill="#b8e3eb"/>
<ellipse cx="394.4" cy="435.2" rx="5.9" ry="6.9" fill="#a7d6e4"/>
<ellipse cx="394.7" cy="439.7" rx="5.9" ry="6.9" fill="#afdde7"/>
<ellipse cx="395.0" cy="440.0" rx="5.9" ry="6.9" fill="#b2e0e9"/>
<ellipse cx="395.1" cy="435.5" rx="5.9" ry="6.9" fill="#a4d4e3"/>
<ellipse cx="395.8" cy="436.1" rx="5.9" ry="6.9" fill="#a9d8e5"/>
<ellipse cx="396.2" cy="435.5" rx="5.9" ry="6.9" fill="#bde5ec"/>
<ellipse cx="396.4" cy="438.9" rx="5.9" ry="6.9" fill="#b9e3eb"/>
<ellipse cx="396.7" cy="435.5" rx="5.9" ry="6.9" fill="#a5d5e3"/>
<ellipse cx="397.7" cy="436.5" rx="5.9" ry="6.9" fill="#bce5ec"/>
<ellipse cx="397.7" cy="437.5" rx="5.9" ry="6.9" fill="#b7e2ea"/>
<ellipse cx="398.1" cy="435.5" rx="5.9" ry="6.9" fill="#bbe4ec"/>
<ellipse cx="398.2" cy="436.9" rx="5.9" ry="6.9" fill="#addbe7"/>
<ellipse cx="398.8" cy="437.8" rx="5.9" ry="6.9" fill="#a6d5e4"/>
<ellipse cx="399.5" cy="440.4" rx="5.9" ry="6.9" fill="#b3e0e9"/>
<ellipse cx="399.8" cy="440.0" rx="5.9" ry="6.9" fill="#b2e0e9"/>
<ellipse cx="400.3" cy="435.4" rx="5.9" ry="6.9" fill="#a5d4e3"/>
<ellipse cx="400.4" cy="440.4" rx="5.9" ry="6.9" fill="#bce5ec"/>
<ellipse cx="400.6" cy="435.6" rx="5.9" ry="6.9" fill="#bce5ec"/>
<ellipse cx="401.1" cy="438.7" rx="5.9" ry="6.9" fill="#a3d3e2"/>
<ellipse cx="401.8" cy="440.0" rx="5.9" ry="6.9" fill="#b7e2ea"/>
<ellipse cx="401.9" cy="438.3" rx="5.9" ry="6.9" fill="#b1dfe8"/>
<ellipse cx="402.7" cy="435.3" rx="5.9" ry="6.9" fill="#b3e0e9"/>
<ellipse cx="403.0" cy="438.6" rx="5.9" ry="6.9" fill="#aedce7"/>
<ellipse cx="403.6" cy="440.5" rx="5.9" ry="6.9" fill="#b9e3eb"/>
<ellipse cx="403.6" cy="436.3" rx="5.9" ry="6.9" fill="#a5d4e3"/>
<ellipse cx="404.0" cy="438.0" rx="5.9" ry="6.9" fill="#b3e1e9"/>
<ellipse cx="404.5" cy="440.1" rx="5.9" ry="6.9" fill="#bbe4eb"/>
<ellipse cx="405.2" cy="437.3" rx="5.9" ry="6.9" fill="#b4e1ea"/>
<ellipse cx="405.4" cy="439.0" rx="5.9" ry="6.9" fill="#bde5ec"/>
<ellipse cx="405.8" cy="436.7" rx="5.9" ry="6.9" fill="#b9e3eb"/>
<ellipse cx="406.2" cy="436.9" rx="5.9" ry="6.9" fill="#a2d2e2"/>
<ellipse cx="406.8" cy="435.6" rx="5.9" ry="6.9" fill="#bbe4eb"/>
<ellipse cx="406.8" cy="440.6" rx="5.9" ry="6.9" fill="#bae4eb"/>
<ellipse cx="407.1" cy="438.7" rx="5.9" ry="6.9" fill="#b9e3eb"/>
<ellipse cx="407.8" cy="440.1" rx="5.9" ry="6.9" fill="#a6d5e4"/>
<ellipse cx="408.1" cy="435.4" rx="5.9" ry="6.9" fill="#addbe7"/>
<ellipse cx="408.8" cy="438.1" rx="5.9" ry="6.9" fill="#bae4eb"/>
<ellipse cx="408.9" cy="438.2" rx="5.9" ry="6.9" fill="#b6e2ea"/>
<ellipse cx="403.8" cy="421.5" rx="5.9" ry="6.9" fill="#d5f0f3"/>
<ellipse cx="409.0" cy="438.3" rx="5.9" ry="6.9" fill="#bce5ec"/>
<ellipse cx="403.9" cy="424.5" rx="5.9" ry="6.9" fill="#d5f0f3"/>
<ellipse cx="409.9" cy="437.5" rx="5.9" ry="6.9" fill="#a8d7e4"/>
<ellipse cx="410.2" cy="438.0" rx="5.9" ry="6.9" fill="#a9d8e5"/>
<ellipse cx="410.3" cy="440.2" rx="5.9" ry="6.9" fill="#a6d6e4"/>
<ellipse cx="411.3" cy="438.7" rx="5.9" ry="6.9" fill="#aad9e6"/>
<ellipse cx="411.3" cy="435.2" rx="5.9" ry="6.9" fill="#b7e2ea"/>
<ellipse cx="411.5" cy="436.2" rx="5.9" ry="6.9" fill="#bce5ec"/>
<ellipse cx="412.1" cy="435.7" rx="5.9" ry="6.9" fill="#addce7"/>
<ellipse cx="412.8" cy="440.6" rx="5.9" ry="6.9" fill="#aedce7"/>
<ellipse cx="413.3" cy="440.1" rx="5.9" ry="6.9" fill="#aedde7"/>
<ellipse cx="413.3" cy="439.8" rx="5.9" ry="6.9" fill="#bbe4ec"/>
<ellipse cx="413.9" cy="435.1" rx="5.9" ry="6.9" fill="#addbe7"/>
<ellipse cx="414.2" cy="435.3" rx="5.9" ry="6.9" fill="#a4d4e3"/>
<ellipse cx="414.4" cy="438.5" rx="5.9" ry="6.9" fill="#a6d6e4"/>
<ellipse cx="414.8" cy="437.2" rx="5.9" ry="6.9" fill="#bde5ec"/>
<ellipse cx="415.4" cy="439.9" rx="5.9" ry="6.9" fill="#acdbe6"/>
<ellipse cx="415.8" cy="438.9" rx="5.9" ry="6.9" fill="#b5e2ea"/>
<ellipse cx="416.0" cy="440.4" rx="5.9" ry="6.9" fill="#a4d4e3"/>
<ellipse cx="416.3" cy="434.9" rx="5.9" ry="6.9" fill="#a7d7e4"/>
<ellipse cx="416.7" cy="435.1" rx="5.9" ry="6.9" fill="#b7e3eb"/>
<ellipse cx="417.2" cy="435.2" rx="5.9" ry="6.9" fill="#a6d5e4"/>
<ellipse cx="417.4" cy="437.7" rx="5.9" ry="6.9" fill="#b1dfe9"/>
<ellipse cx="418.1" cy="437.0" rx="5.9" ry="6.9" fill="#b9e3eb"/>
<ellipse cx="419.0" cy="435.6" rx="5.9" ry="6.9" fill="#a4d4e3"/>
<ellipse cx="419.0" cy="438.0" rx="5.9" ry="6.9" fill="#b7e2ea"/>
<ellipse cx="419.0" cy="435.2" rx="5.9" ry="6.9" fill="#afdde8"/>
<ellipse cx="419.6" cy="440.7" rx="5.9" ry="6.9" fill="#b8e3eb"/>
<ellipse cx="419.8" cy="437.8" rx="5.9" ry="6.9" fill="#abd9e6"/>
<ellipse cx="420.6" cy="434.7" rx="5.9" ry="6.9" fill="#bde5ec"/>
<ellipse cx="420.9" cy="437.9" rx="5.9" ry="6.9" fill="#b6e2ea"/>
<ellipse cx="421.4" cy="435.0" rx="5.9" ry="6.9" fill="#afdde8"/>
<ellipse cx="421.5" cy="437.1" rx="5.9" ry="6.9" fill="#b5e1ea"/>
<ellipse cx="422.5" cy="439.1" rx="5.9" ry="6.9" fill="#b8e3eb"/>
<ellipse cx="422.6" cy="440.2" rx="5.9" ry="6.9" fill="#a7d6e4"/>
<ellipse cx="422.8" cy="440.2" rx="5.9" ry="6.9" fill="#a3d3e2"/>
<ellipse cx="423.6" cy="439.1" rx="5.9" ry="6.9" fill="#bae4eb"/>
<ellipse cx="423.8" cy="435.1" rx="5.9" ry="6.9" fill="#bce5ec"/>
<ellipse cx="424.4" cy="437.1" rx="5.9" ry="6.9" fill="#a7d7e4"/>
<ellipse cx="424.7" cy="434.8" rx="5.9" ry="6.9" fill="#b4e1ea"/>
<ellipse cx="425.0" cy="435.3" rx="5.9" ry="6.9" fill="#a8d7e4"/>
<ellipse cx="425.0" cy="434.8" rx="5.9" ry="6.9" fill="#a8d7e4"/>
<ellipse cx="425.7" cy="438.7" rx="5.9" ry="6.9" fill="#aad9e5"/>
<ellipse cx="426.4" cy="440.3" rx="5.9" ry="6.9" fill="#b5e1ea"/>
<ellipse cx="426.8" cy="436.5" rx="5.9" ry="6.9" fill="#a4d4e3"/>
<ellipse cx="427.2" cy="435.3" rx="5.9" ry="6.9" fill="#b7e3ea"/>
<ellipse cx="427.6" cy="438.5" rx="5.9" ry="6.9" fill="#a5d4e3"/>
<ellipse cx="427.9" cy="434.6" rx="5.9" ry="6.9" fill="#aedde7"/>
<ellipse cx="428.4" cy="440.7" rx="5.9" ry="6.9" fill="#bae4eb"/>
<ellipse cx="428.5" cy="435.1" rx="5.9" ry="6.9" fill="#a3d2e2"/>
<ellipse cx="429.2" cy="434.8" rx="5.9" ry="6.9" fill="#a7d6e4"/>
<ellipse cx="429.7" cy="440.8" rx="5.9" ry="6.9" fill="#bae4eb"/>
<ellipse cx="430.1" cy="435.1" rx="5.9" ry="6.9" fill="#b7e3ea"/>
<ellipse cx="430.2" cy="437.7" rx="5.9" ry="6.9" fill="#bee5ec"/>
<ellipse cx="430.4" cy="439.5" rx="5.9" ry="6.9" fill="#b3e1e9"/>
<ellipse cx="431.1" cy="440.1" rx="5.9" ry="6.9" fill="#addbe7"/>
<ellipse cx="431.6" cy="440.6" rx="5.9" ry="6.9" fill="#b3e0e9"/>
<ellipse cx="431.6" cy="435.0" rx="5.9" ry="6.9" fill="#afdee8"/>
<ellipse cx="431.8" cy="440.3" rx="5.9" ry="6.9" fill="#b2e0e9"/>
<ellipse cx="432.3" cy="439.3" rx="5.9" ry="6.9" fill="#bae4eb"/>
<ellipse cx="432.8" cy="440.5" rx="5.9" ry="6.9" fill="#abdae6"/>
<ellipse cx="433.5" cy="434.8" rx="5.9" ry="6.9" fill="#a4d4e3"/>
<ellipse cx="433.8" cy="437.9" rx="5.9" ry="6.9" fill="#a5d4e3"/>
<ellipse cx="434.1" cy="440.7" rx="5.9" ry="6.9" fill="#a7d6e4"/>
<ellipse cx="434.4" cy="438.8" rx="5.9" ry="6.9" fill="#abd9e6"/>
<ellipse cx="435.2" cy="435.8" rx="5.9" ry="6.9" fill="#b4e1e9"/>
<ellipse cx="435.3" cy="440.3" rx="5.9" ry="6.9" fill="#bee6ec"/>
<ellipse cx="435.5" cy="440.4" rx="5.9" ry="6.9" fill="#a6d6e4"/>
<ellipse cx="436.2" cy="436.9" rx="5.9" ry="6.9" fill="#bce5ec"/>
<ellipse cx="436.9" cy="440.6" rx="5.9" ry="6.9" fill="#a4d4e3"/>
<ellipse cx="437.2" cy="440.9" rx="5.9" ry="6.9" fill="#bee6ec"/>
<ellipse cx="437.5" cy="435.2" rx="5.9" ry="6.9" fill="#acdbe7"/>
<ellipse cx="437.5" cy="440.7" rx="5.9" ry="6.9" fill="#a5d4e3"/>
<ellipse cx="438.5" cy="434.5" rx="5.9" ry="6.9" fill="#b9e3eb"/>
<ellipse cx="438.7" cy="438.1" rx="5.9" ry="6.9" fill="#a8d7e4"/>
<ellipse cx="438.8" cy="435.0" rx="5.9" ry="6.9" fill="#b9e3eb"/>
<ellipse cx="439.6" cy="440.7" rx="5.9" ry="6.9" fill="#bde5ec"/>
<ellipse cx="439.9" cy="434.5" rx="5.9" ry="6.9" fill="#bce5ec"/>
<ellipse cx="440.4" cy="437.0" rx="5.9" ry="6.9" fill="#addbe7"/>
<ellipse cx="440.5" cy="440.4" rx="5.9" ry="6.9" fill="#bae4eb"/>
<ellipse cx="441.0" cy="440.2" rx="5.9" ry="6.9" fill="#b5e1ea"/>
<ellipse cx="441.4" cy="434.8" rx="5.9" ry="6.9" fill="#a5d4e3"/>
<ellipse cx="442.0" cy="435.8" rx="5.9" ry="6.9" fill="#b4e1e9"/>
<ellipse cx="442.0" cy="435.1" rx="5.9" ry="6.9" fill="#b0dee8"/>
<ellipse cx="442.5" cy="435.0" rx="5.9" ry="6.9" fill="#bce5ec"/>
<ellipse cx="442.7" cy="434.8" rx="5.9" ry="6.9" fill="#bee5ec"/>
<ellipse cx="443.5" cy="438.6" rx="5.9" ry="6.9" fill="#a7d6e4"/>
<ellipse cx="444.0" cy="440.9" rx="5.9" ry="6.9" fill="#b7e2ea"/>
<ellipse cx="444.3" cy="438.0" rx="5.9" ry="6.9" fill="#aad9e5"/>
<ellipse cx="444.3" cy="435.8" rx="5.9" ry="6.9" fill="#acdbe6"/>
<ellipse cx="445.3" cy="435.2" rx="5.9" ry="6.9" fill="#b5e1ea"/>
<ellipse cx="445.4" cy="434.9" rx="5.9" ry="6.9" fill="#a5d5e3"/>
<ellipse cx="445.4" cy="440.7" rx="5.9" ry="6.9" fill="#a5d4e3"/>
<ellipse cx="446.5" cy="437.6" rx="5.9" ry="6.9" fill="#aad9e5"/>
<ellipse cx="446.8" cy="439.6" rx="5.9" ry="6.9" fill="#addce7"/>
<ellipse cx="446.9" cy="440.3" rx="5.9" ry="6.9" fill="#addce7"/>
<ellipse cx="447.6" cy="435.0" rx="5.9" ry="6.9" fill="#aad9e6"/>
<ellipse cx="448.0" cy="440.3" rx="5.9" ry="6.9" fill="#b7e3eb"/>
<ellipse cx="448.2" cy="440.4" rx="5.9" ry="6.9" fill="#b4e1ea"/>
<ellipse cx="448.6" cy="440.6" rx="5.9" ry="6.9" fill="#acdae6"/>
<ellipse cx="448.8" cy="440.4" rx="5.9" ry="6.9" fill="#b5e1ea"/>
<ellipse cx="449.1" cy="437.0" rx="5.9" ry="6.9" fill="#b6e2ea"/>
<ellipse cx="449.9" cy="440.8" rx="5.9" ry="6.9" fill="#a6d5e4"/>
<ellipse cx="450.5" cy="437.7" rx="5.9" ry="6.9" fill="#b2e0e9"/>
<ellipse cx="451.0" cy="440.3" rx="5.9" ry="6.9" fill="#b6e2ea"/>
<ellipse cx="451.3" cy="434.7" rx="5.9" ry="6.9" fill="#aad9e5"/>
<ellipse cx="451.5" cy="440.6" rx="5.9" ry="6.9" fill="#bce5ec"/>
<ellipse cx="451.6" cy="440.5" rx="5.9" ry="6.9" fill="#a6d5e4"/>
<ellipse cx="452.5" cy="439.4" rx="5.9" ry="6.9" fill="#acdae6"/>
<ellipse cx="452.7" cy="439.2" rx="5.9" ry="6.9" fill="#abdae6"/>
<ellipse cx="452.8" cy="440.8" rx="5.9" ry="6.9" fill="#a6d5e4"/>
<ellipse cx="453.1" cy="440.5" rx="5.9" ry="6.9" fill="#addbe7"/>
<ellipse cx="454.2" cy="439.8" rx="5.9" ry="6.9" fill="#a7d6e4"/>
<ellipse cx="454.5" cy="440.5" rx="5.9" ry="6.9" fill="#bae4eb"/>
<ellipse cx="454.7" cy="434.6" rx="5.9" ry="6.9" fill="#b5e2ea"/>
<ellipse cx="455.0" cy="439.3" rx="5.9" ry="6.9" fill="#addce7"/>
<ellipse cx="455.5" cy="434.7" rx="5.9" ry="6.9" fill="#b4e1ea"/>
<ellipse cx="455.5" cy="434.9" rx="5.9" ry="6.9" fill="#b9e3eb"/>
<ellipse cx="455.9" cy="434.8" rx="5.9" ry="6.9" fill="#afdee8"/>
<ellipse cx="456.9" cy="435.0" rx="5.9" ry="6.9" fill="#bee5ec"/>
<ellipse cx="457.1" cy="435.0" rx="5.9" ry="6.9" fill="#aedce7"/>
<ellipse cx="457.4" cy="440.4" rx="5.9" ry="6.9" fill="#bee6ec"/>
<ellipse cx="457.7" cy="435.0" rx="5.9" ry="6.9" fill="#aad9e5"/>
<ellipse cx="458.2" cy="435.2" rx="5.9" ry="6.9" fill="#a7d6e4"/>
<ellipse cx="458.7" cy="435.2" rx="5.9" ry="6.9" fill="#b8e3eb"/>
<ellipse cx="459.0" cy="435.0" rx="5.9" ry="6.9" fill="#a6d5e4"/>
<ellipse cx="459.3" cy="438.8" rx="5.9" ry="6.9" fill="#bde5ec"/>
<ellipse cx="459.6" cy="435.1" rx="5.9" ry="6.9" fill="#aedce7"/>
<ellipse cx="460.2" cy="440.3" rx="5.9" ry="6.9" fill="#b0dee8"/>
<ellipse cx="460.3" cy="436.2" rx="5.9" ry="6.9" fill="#afdee8"/>
<ellipse cx="460.8" cy="436.2" rx="5.9" ry="6.9" fill="#acdbe6"/>
<ellipse cx="461.1" cy="434.8" rx="5.9" ry="6.9" fill="#aad9e6"/>
<ellipse cx="461.6" cy="439.0" rx="5.9" ry="6.9" fill="#bce5ec"/>
<ellipse cx="462.2" cy="434.6" rx="5.9" ry="6.9" fill="#addce7"/>
<ellipse cx="462.5" cy="440.6" rx="5.9" ry="6.9" fill="#bbe4eb"/>
<ellipse cx="462.9" cy="440.9" rx="5.9" ry="6.9" fill="#bce5ec"/>
<ellipse cx="463.2" cy="435.3" rx="5.9" ry="6.9" fill="#a7d6e4"/>
<ellipse cx="463.7" cy="440.2" rx="5.9" ry="6.9" fill="#b8e3eb"/>
<ellipse cx="463.8" cy="440.8" rx="5.9" ry="6.9" fill="#b6e2ea"/>
<ellipse cx="464.8" cy="440.2" rx="5.9" ry="6.9" fill="#b5e1ea"/>
<ellipse cx="464.9" cy="437.7" rx="5.9" ry="6.9" fill="#bce4ec"/>
<ellipse cx="465.0" cy="439.7" rx="5.9" ry="6.9" fill="#b8e3eb"/>
<ellipse cx="465.8" cy="436.5" rx="5.9" ry="6.9" fill="#b9e3eb"/>
<ellipse cx="466.5" cy="440.5" rx="5.9" ry="6.9" fill="#bbe4eb"/>
<ellipse cx="466.5" cy="434.9" rx="5.9" ry="6.9" fill="#addbe7"/>
<ellipse cx="466.6" cy="435.4" rx="5.9" ry="6.9" fill="#bae4eb"/>
<ellipse cx="467.3" cy="440.4" rx="5.9" ry="6.9" fill="#acdbe6"/>
<ellipse cx="467.9" cy="440.2" rx="5.9" ry="6.9" fill="#abdae6"/>
<ellipse cx="468.0" cy="435.4" rx="5.9" ry="6.9" fill="#afdde7"/>
<ellipse cx="468.9" cy="438.1" rx="5.9" ry="6.9" fill="#a9d8e5"/>
<ellipse cx="469.2" cy="435.3" rx="5.9" ry="6.9" fill="#bee6ec"/>
<ellipse cx="469.7" cy="438.3" rx="5.9" ry="6.9" fill="#afdde8"/>
<ellipse cx="470.0" cy="440.7" rx="5.9" ry="6.9" fill="#a6d5e4"/>
<ellipse cx="470.4" cy="434.6" rx="5.9" ry="6.9" fill="#bde5ec"/>
<ellipse cx="470.8" cy="440.7" rx="5.9" ry="6.9" fill="#bae4eb"/>
<ellipse cx="471.3" cy="437.6" rx="5.9" ry="6.9" fill="#bee6ec"/>
<ellipse cx="471.6" cy="435.0" rx="5.9" ry="6.9" fill="#acdbe6"/>
<ellipse cx="471.9" cy="435.2" rx="5.9" ry="6.9" fill="#b0dee8"/>
<ellipse cx="472.0" cy="440.5" rx="5.9" ry="6.9" fill="#bbe4ec"/>
<ellipse cx="472.6" cy="437.0" rx="5.9" ry="6.9" fill="#abdae6"/>
<ellipse cx="472.7" cy="440.3" rx="5.9" ry="6.9" fill="#b6e2ea"/>
<ellipse cx="473.4" cy="435.2" rx="5.9" ry="6.9" fill="#b5e2ea"/>
<ellipse cx="474.0" cy="440.3" rx="5.9" ry="6.9" fill="#a5d5e3"/>
<ellipse cx="474.4" cy="440.8" rx="5.9" ry="6.9" fill="#b0dfe8"/>
<ellipse cx="474.8" cy="435.1" rx="5.9" ry="6.9" fill="#b8e3eb"/>
<ellipse cx="475.0" cy="440.6" rx="5.9" ry="6.9" fill="#a7d6e4"/>
<ellipse cx="475.5" cy="440.9" rx="5.9" ry="6.9" fill="#b6e2ea"/>
<ellipse cx="475.7" cy="437.6" rx="5.9" ry="6.9" fill="#a5d4e3"/>
<ellipse cx="476.3" cy="435.2" rx="5.9" ry="6.9" fill="#bce5ec"/>
<ellipse cx="476.7" cy="438.8" rx="5.9" ry="6.9" fill="#b6e2ea"/>
<ellipse cx="477.0" cy="440.1" rx="5.9" ry="6.9" fill="#acdae6"/>
<ellipse cx="477.5" cy="440.9" rx="5.9" ry="6.9" fill="#b6e2ea"/>
<ellipse cx="477.7" cy="434.7" rx="5.9" ry="6.9" fill="#aad9e5"/>
<ellipse cx="478.1" cy="437.7" rx="5.9" ry="6.9" fill="#bae4eb"/>
<ellipse cx="478.7" cy="436.6" rx="5.9" ry="6.9" fill="#b8e3eb"/>
<ellipse cx="478.8" cy="435.0" rx="5.9" ry="6.9" fill="#bfe6ed"/>
<ellipse cx="479.5" cy="438.5" rx="5.9" ry="6.9" fill="#b8e3eb"/>
<ellipse cx="480.0" cy="440.9" rx="5.9" ry="6.9" fill="#acdbe7"/>
<ellipse cx="480.2" cy="439.5" rx="5.9" ry="6.9" fill="#aad9e5"/>
<ellipse cx="480.4" cy="434.8" rx="5.9" ry="6.9" fill="#b3e0e9"/>
<ellipse cx="480.9" cy="434.9" rx="5.9" ry="6.9" fill="#a7d7e4"/>
<ellipse cx="481.8" cy="436.1" rx="5.9" ry="6.9" fill="#a6d6e4"/>
<ellipse cx="482.1" cy="440.7" rx="5.9" ry="6.9" fill="#a8d7e5"/>
<ellipse cx="482.5" cy="434.8" rx="5.9" ry="6.9" fill="#b6e2ea"/>
<ellipse cx="482.9" cy="436.8" rx="5.9" ry="6.9" fill="#b9e3eb"/>
<ellipse cx="482.9" cy="439.8" rx="5.9" ry="6.9" fill="#bae4eb"/>
<ellipse cx="483.4" cy="441.0" rx="5.9" ry="6.9" fill="#b4e1ea"/>
<ellipse cx="484.0" cy="439.5" rx="5.9" ry="6.9" fill="#b2e0e9"/>
<ellipse cx="484.4" cy="441.0" rx="5.9" ry="6.9" fill="#a4d4e3"/>
<ellipse cx="484.5" cy="441.1" rx="5.9" ry="6.9" fill="#bce5ec"/>
<ellipse cx="485.3" cy="435.1" rx="5.9" ry="6.9" fill="#bae4eb"/>
<ellipse cx="485.6" cy="434.8" rx="5.9" ry="6.9" fill="#b0dee8"/>
<ellipse cx="485.9" cy="439.5" rx="5.9" ry="6.9" fill="#bce5ec"/>
<ellipse cx="486.1" cy="440.9" rx="5.9" ry="6.9" fill="#b3e1e9"/>
<ellipse cx="486.9" cy="435.1" rx="5.9" ry="6.9" fill="#bbe4eb"/>
<ellipse cx="487.1" cy="435.7" rx="5.9" ry="6.9" fill="#a9d8e5"/>
<ellipse cx="487.8" cy="435.1" rx="5.9" ry="6.9" fill="#b4e1ea"/>
<ellipse cx="487.8" cy="435.2" rx="5.9" ry="6.9" fill="#aad9e6"/>
<ellipse cx="488.5" cy="441.9" rx="5.9" ry="6.9" fill="#bce5ec"/>
<ellipse cx="489.0" cy="435.2" rx="5.9" ry="6.9" fill="#a5d4e3"/>
<ellipse cx="487.3" cy="434.8" rx="5.9" ry="6.9" fill="#ecfbd8"/>
<ellipse cx="489.2" cy="440.7" rx="5.9" ry="6.9" fill="#a5d5e3"/>
<ellipse cx="489.3" cy="441.8" rx="5.9" ry="6.9" fill="#b0dee8"/>
<ellipse cx="489.7" cy="434.6" rx="5.9" ry="6.9" fill="#a5d4e3"/>
<ellipse cx="490.1" cy="441.3" rx="5.9" ry="6.9" fill="#abdae6"/>
<ellipse cx="490.5" cy="439.7" rx="5.9" ry="6.9" fill="#a6d6e4"/>
<ellipse cx="491.0" cy="438.9" rx="5.9" ry="6.9" fill="#b8e3eb"/>
<ellipse cx="491.2" cy="439.9" rx="5.9" ry="6.9" fill="#aad9e5"/>
<ellipse cx="492.0" cy="437.6" rx="5.9" ry="6.9" fill="#bde5ec"/>
<ellipse cx="492.2" cy="442.0" rx="5.9" ry="6.9" fill="#b3e0e9"/>
<ellipse cx="492.7" cy="439.9" rx="5.9" ry="6.9" fill="#b6e2ea"/>
<ellipse cx="492.9" cy="441.9" rx="5.9" ry="6.9" fill="#bae4eb"/>
<ellipse cx="493.7" cy="441.2" rx="5.9" ry="6.9" fill="#b3e0e9"/>
<ellipse cx="493.8" cy="441.6" rx="5.9" ry="6.9" fill="#b3e0e9"/>
<ellipse cx="494.6" cy="434.9" rx="5.9" ry="6.9" fill="#b1e0e9"/>
<ellipse cx="494.6" cy="435.8" rx="5.9" ry="6.9" fill="#aad9e5"/>
<ellipse cx="495.1" cy="441.6" rx="5.9" ry="6.9" fill="#b0dfe8"/>
<ellipse cx="495.4" cy="435.0" rx="5.9" ry="6.9" fill="#acdae6"/>
<ellipse cx="495.8" cy="441.6" rx="5.9" ry="6.9" fill="#b9e3eb"/>
<ellipse cx="496.2" cy="441.0" rx="5.9" ry="6.9" fill="#b4e1ea"/>
<ellipse cx="496.3" cy="435.2" rx="5.9" ry="6.9" fill="#aad9e6"/>
<ellipse cx="497.1" cy="437.0" rx="5.9" ry="6.9" fill="#b5e1ea"/>
<ellipse cx="497.4" cy="437.8" rx="5.9" ry="6.9" fill="#afdee8"/>
<ellipse cx="497.8" cy="440.8" rx="5.9" ry="6.9" fill="#abdae6"/>
<ellipse cx="498.2" cy="440.5" rx="5.9" ry="6.9" fill="#bbe4ec"/>
<ellipse cx="498.6" cy="441.2" rx="5.9" ry="6.9" fill="#b1dfe9"/>
<ellipse cx="498.9" cy="440.0" rx="5.9" ry="6.9" fill="#b4e1ea"/>
<ellipse cx="499.5" cy="440.2" rx="5.9" ry="6.9" fill="#aad9e5"/>
<ellipse cx="499.8" cy="440.5" rx="5.9" ry="6.9" fill="#b1dfe8"/>
<ellipse cx="500.1" cy="440.6" rx="5.9" ry="6.9" fill="#bde5ec"/>
<ellipse cx="500.4" cy="439.0" rx="5.9" ry="6.9" fill="#a7d7e4"/>
<ellipse cx="500.8" cy="435.9" rx="5.9" ry="6.9" fill="#addce7"/>
<ellipse cx="501.6" cy="440.2" rx="5.9" ry="6.9" fill="#b7e2ea"/>
<ellipse cx="502.0" cy="440.3" rx="5.9" ry="6.9" fill="#a7d6e4"/>
<ellipse cx="502.0" cy="440.7" rx="5.9" ry="6.9" fill="#b7e2ea"/>
<ellipse cx="502.7" cy="435.4" rx="5.9" ry="6.9" fill="#afdde8"/>
<ellipse cx="503.2" cy="438.2" rx="5.9" ry="6.9" fill="#b3e1e9"/>
<ellipse cx="503.5" cy="439.3" rx="5.9" ry="6.9" fill="#bce5ec"/>
<ellipse cx="503.6" cy="435.0" rx="5.9" ry="6.9" fill="#b2e0e9"/>
<ellipse cx="504.5" cy="435.2" rx="5.9" ry="6.9" fill="#b7e2ea"/>
<ellipse cx="504.6" cy="436.7" rx="5.9" ry="6.9" fill="#b3e0e9"/>
<ellipse cx="504.8" cy="435.7" rx="5.9" ry="6.9" fill="#b2e0e9"/>
<ellipse cx="505.4" cy="440.3" rx="5.9" ry="6.9" fill="#b1e0e9"/>
<ellipse cx="505.4" cy="435.6" rx="5.9" ry="6.9" fill="#b8e3eb"/>
<ellipse cx="506.0" cy="440.2" rx="5.9" ry="6.9" fill="#afdee8"/>
<ellipse cx="506.6" cy="440.6" rx="5.9" ry="6.9" fill="#b0dee8"/>
<ellipse cx="507.1" cy="436.1" rx="5.9" ry="6.9" fill="#b4e1e9"/>
<ellipse cx="507.1" cy="437.7" rx="5.9" ry="6.9" fill="#abdae6"/>
<ellipse cx="508.1" cy="440.7" rx="5.9" ry="6.9" fill="#b1dfe8"/>
<ellipse cx="508.1" cy="440.6" rx="5.9" ry="6.9" fill="#b6e2ea"/>
<ellipse cx="509.0" cy="435.5" rx="5.9" ry="6.9" fill="#b9e3eb"/>
<ellipse cx="509.4" cy="435.4" rx="5.9" ry="6.9" fill="#b8e3eb"/>
<ellipse cx="509.6" cy="440.2" rx="5.9" ry="6.9" fill="#a7d6e4"/>
<ellipse cx="509.7" cy="438.0" rx="5.9" ry="6.9" fill="#bde5ec"/>
<ellipse cx="510.5" cy="438.1" rx="5.9" ry="6.9" fill="#a8d7e5"/>
<ellipse cx="510.6" cy="436.5" rx="5.9" ry="6.9" fill="#bbe4eb"/>
<ellipse cx="510.9" cy="440.6" rx="5.9" ry="6.9" fill="#b0dee8"/>
<ellipse cx="511.2" cy="439.0" rx="5.9" ry="6.9" fill="#addce7"/>
<ellipse cx="512.2" cy="440.6" rx="5.9" ry="6.9" fill="#b3e1e9"/>
<ellipse cx="512.3" cy="440.7" rx="5.9" ry="6.9" fill="#b4e1ea"/>
<ellipse cx="513.0" cy="435.6" rx="5.9" ry="6.9" fill="#b6e2ea"/>
<ellipse cx="513.2" cy="437.2" rx="5.9" ry="6.9" fill="#bde5ec"/>
<ellipse cx="513.2" cy="440.9" rx="5.9" ry="6.9" fill="#a8d7e5"/>
<ellipse cx="514.1" cy="438.2" rx="5.9" ry="6.9" fill="#bbe4eb"/>
<ellipse cx="514.3" cy="439.1" rx="5.9" ry="6.9" fill="#b5e2ea"/>
<ellipse cx="514.4" cy="435.2" rx="5.9" ry="6.9" fill="#afdde7"/>
<ellipse cx="515.3" cy="438.9" rx="5.9" ry="6.9" fill="#a9d8e5"/>
<ellipse cx="515.4" cy="435.2" rx="5.9" ry="6.9" fill="#b6e2ea"/>
<ellipse cx="515.9" cy="437.5" rx="5.9" ry="6.9" fill="#b5e1ea"/>
<ellipse cx="516.2" cy="437.8" rx="5.9" ry="6.9" fill="#bee5ec"/>
<ellipse cx="516.3" cy="440.7" rx="5.9" ry="6.9" fill="#c0e7ed"/>
<ellipse cx="517.3" cy="437.6" rx="5.9" ry="6.9" fill="#b6e2ea"/>
<ellipse cx="517.4" cy="439.9" rx="5.9" ry="6.9" fill="#addbe7"/>
<ellipse cx="517.8" cy="437.7" rx="5.9" ry="6.9" fill="#bfe6ed"/>
<ellipse cx="518.0" cy="440.5" rx="5.9" ry="6.9" fill="#addce7"/>
<ellipse cx="518.3" cy="435.6" rx="5.9" ry="6.9" fill="#a6d5e4"/>
<ellipse cx="518.8" cy="437.1" rx="5.9" ry="6.9" fill="#addce7"/>
<ellipse cx="519.0" cy="437.1" rx="5.9" ry="6.9" fill="#bfe6ec"/>
<ellipse cx="519.7" cy="439.2" rx="5.9" ry="6.9" fill="#addbe7"/>
<ellipse cx="520.5" cy="437.1" rx="5.9" ry="6.9" fill="#b5e1ea"/>
<ellipse cx="520.6" cy="440.4" rx="5.9" ry="6.9" fill="#b5e2ea"/>
<ellipse cx="521.4" cy="440.5" rx="5.9" ry="6.9" fill="#b1dfe9"/>
<ellipse cx="521.4" cy="438.5" rx="5.9" ry="6.9" fill="#bbe4eb"/>
<ellipse cx="521.9" cy="439.5" rx="5.9" ry="6.9" fill="#c0e7ed"/>
<ellipse cx="522.0" cy="437.2" rx="5.9" ry="6.9" fill="#b0dee8"/>
<ellipse cx="522.6" cy="436.3" rx="5.9" ry="6.9" fill="#bae4eb"/>
<ellipse cx="522.8" cy="440.1" rx="5.9" ry="6.9" fill="#a8d7e5"/>
<ellipse cx="523.0" cy="437.1" rx="5.9" ry="6.9" fill="#bde5ec"/>
<ellipse cx="524.0" cy="440.8" rx="5.9" ry="6.9" fill="#bee6ec"/>
<ellipse cx="524.3" cy="436.9" rx="5.9" ry="6.9" fill="#acdbe7"/>
<ellipse cx="524.4" cy="437.1" rx="5.9" ry="6.9" fill="#addce7"/>
<ellipse cx="525.1" cy="440.0" rx="5.9" ry="6.9" fill="#b1dfe9"/>
<ellipse cx="525.7" cy="440.1" rx="5.9" ry="6.9" fill="#b0dee8"/>
<ellipse cx="526.1" cy="437.1" rx="5.9" ry="6.9" fill="#b2e0e9"/>
<ellipse cx="526.6" cy="437.3" rx="5.9" ry="6.9" fill="#b8e3eb"/>
<ellipse cx="526.6" cy="440.2" rx="5.9" ry="6.9" fill="#a7d6e4"/>
<ellipse cx="527.2" cy="437.0" rx="5.9" ry="6.9" fill="#bde5ec"/>
<ellipse cx="527.5" cy="440.1" rx="5.9" ry="6.9" fill="#aedce7"/>
<ellipse cx="527.5" cy="438.4" rx="5.9" ry="6.9" fill="#b5e1ea"/>
<ellipse cx="528.1" cy="437.1" rx="5.9" ry="6.9" fill="#a6d5e4"/>
<ellipse cx="528.8" cy="438.6" rx="5.9" ry="6.9" fill="#c1e7ed"/>
<ellipse cx="528.9" cy="437.2" rx="5.9" ry="6.9" fill="#c1e7ed"/>
</g>
<rect class="k" x="60.6" y="26.6" width="491.0" height="437.2"/>
<path class="k" d="M82.5 463.8v5.8M166.9 463.8v5.8M251.2 463.8v5.8M335.6 463.8v5.8M419.9 463.8v5.8M504.2 463.8v5.8M60.6 462.6h-5.8M60.6 373.2h-5.8M60.6 283.8h-5.8M60.6 194.4h-5.8M60.6 105.0h-5.8"/>
<g class="t" text-anchor="middle">
<text transform="translate(82.5 486.5) scale(1 1.06)">0</text>
<text transform="translate(166.9 486.5) scale(1 1.06)">5</text>
<text transform="translate(251.2 486.5) scale(1 1.06)">10</text>
<text transform="translate(335.6 486.5) scale(1 1.06)">15</text>
<text transform="translate(419.9 486.5) scale(1 1.06)">20</text>
<text transform="translate(504.2 486.5) scale(1 1.06)">25</text>
</g>
<text class="l" x="306.1" y="507.6" text-anchor="middle">Time (ns)</text>
<g class="t" text-anchor="end">
<text transform="translate(49.7 468.5) scale(1 1.06)">0</text>
<text transform="translate(49.7 379.1) scale(1 1.06)">20</text>
<text transform="translate(49.7 289.7) scale(1 1.06)">40</text>
<text transform="translate(49.7 200.3) scale(1 1.06)">60</text>
<text transform="translate(49.7 110.9) scale(1 1.06)">80</text>
</g>
<text x="306.1" y="17.2" text-anchor="middle" style="font-size:19px">Interaction Energy Landscape</text>
<text class="l" transform="translate(17.3 244.8) rotate(-90)" text-anchor="middle" style="font-size:15.3px">dcm<tspan font-style="italic" font-size="11.4" dy="2.2">bs − lig</tspan><tspan dy="-2.2"> (</tspan><tspan font-style="italic">Å</tspan>)</text>
<rect x="582.0" y="26.6" width="22.3" height="437.2" fill="url(#cb)"/>
<rect x="582.0" y="26.4" width="22.3" height="437.7" fill="none" stroke="#1e1e1e" stroke-width="1.2"/>
<path class="k" d="M604.3 112.7h5.8M604.3 245.2h5.8M604.3 286.0h5.8M604.3 326.8h5.8M604.3 367.6h5.8M604.3 408.3h5.8M604.3 449.1h5.8"/>
<g class="t"><text transform="translate(614.7 118.7) scale(1 1.06)">20</text><text transform="translate(614.7 251.2) scale(1 1.06)">0</text><text transform="translate(614.7 292.0) scale(1 1.06)">−20</text><text transform="translate(614.7 332.8) scale(1 1.06)">−40</text><text transform="translate(614.7 373.6) scale(1 1.06)">−60</text><text transform="translate(614.7 414.3) scale(1 1.06)">−80</text><text transform="translate(614.7 455.1) scale(1 1.06)">−100</text></g>
<text transform="translate(670.2 246) rotate(90)" text-anchor="middle" style="font-size:15.7px">Interaction Energy (kcal/mol)</text>
</svg></body></html>
